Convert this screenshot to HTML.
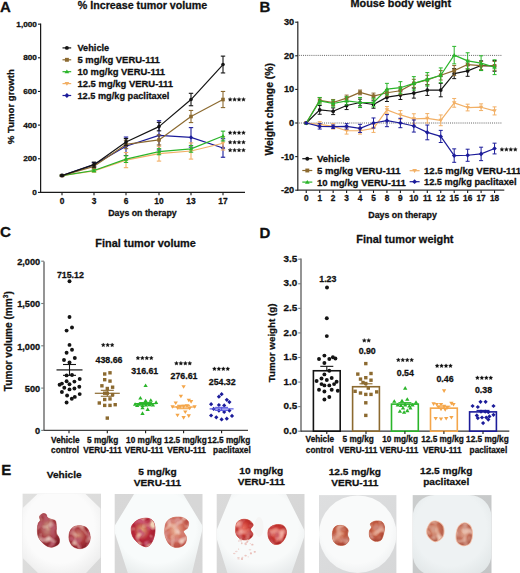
<!DOCTYPE html>
<html><head><meta charset="utf-8"><style>
html,body{margin:0;padding:0;background:#fff;width:520px;height:573px;overflow:hidden}
svg{display:block;font-family:"Liberation Sans", sans-serif}
text{stroke:#111;stroke-width:0.28px;stroke-linejoin:round}
</style></head><body>
<svg width="520" height="573" viewBox="0 0 520 573" font-family='"Liberation Sans", sans-serif'>
<defs><filter id="soft" x="-10%" y="-10%" width="120%" height="120%"><feGaussianBlur stdDeviation="0.7"/></filter><filter id="soft2" x="-20%" y="-20%" width="140%" height="140%"><feGaussianBlur stdDeviation="0.45"/></filter><linearGradient id="bg0" x1="0" y1="0" x2="1" y2="1"><stop offset="0" stop-color="#e0e0df"/><stop offset="1" stop-color="#d8d8d8"/></linearGradient><radialGradient id="pl0" cx="0.48" cy="0.42" r="0.65"><stop offset="0" stop-color="#fbfbfb"/><stop offset="0.7" stop-color="#fbfbfb"/><stop offset="1" stop-color="#eeeeee"/></radialGradient><clipPath id="pc0"><rect x="22.60" y="493.70" width="78.40" height="79.30"/></clipPath><linearGradient id="bg1" x1="0" y1="0" x2="1" y2="1"><stop offset="0" stop-color="#d8d8d8"/><stop offset="1" stop-color="#d6d6d6"/></linearGradient><radialGradient id="pl1" cx="0.48" cy="0.42" r="0.65"><stop offset="0" stop-color="#f8fbfb"/><stop offset="0.7" stop-color="#f8fbfb"/><stop offset="1" stop-color="#e9eded"/></radialGradient><clipPath id="pc1"><rect x="114.70" y="494.00" width="87.80" height="79.00"/></clipPath><linearGradient id="bg2" x1="0" y1="0" x2="1" y2="1"><stop offset="0" stop-color="#dadada"/><stop offset="1" stop-color="#d4d4d4"/></linearGradient><radialGradient id="pl2" cx="0.48" cy="0.42" r="0.65"><stop offset="0" stop-color="#f8fafa"/><stop offset="0.7" stop-color="#f8fafa"/><stop offset="1" stop-color="#e8ebec"/></radialGradient><clipPath id="pc2"><rect x="216.70" y="494.00" width="87.80" height="79.00"/></clipPath><linearGradient id="bg3" x1="0" y1="0" x2="1" y2="1"><stop offset="0" stop-color="#dedfe0"/><stop offset="1" stop-color="#d6d7d8"/></linearGradient><radialGradient id="pl3" cx="0.48" cy="0.42" r="0.65"><stop offset="0" stop-color="#f9fafa"/><stop offset="0.7" stop-color="#f9fafa"/><stop offset="1" stop-color="#eceeef"/></radialGradient><clipPath id="pc3"><rect x="319.00" y="495.10" width="77.40" height="77.90"/></clipPath><linearGradient id="bg4" x1="0" y1="0" x2="1" y2="1"><stop offset="0" stop-color="#cbcdcd"/><stop offset="1" stop-color="#c3c5c6"/></linearGradient><radialGradient id="pl4" cx="0.48" cy="0.42" r="0.65"><stop offset="0" stop-color="#eef2f3"/><stop offset="0.7" stop-color="#eef2f3"/><stop offset="1" stop-color="#e2e7e8"/></radialGradient><clipPath id="pc4"><rect x="412.70" y="495.10" width="78.80" height="77.90"/></clipPath><radialGradient id="tg0" cx="0.45" cy="0.42" r="0.68"><stop offset="0" stop-color="#d0a08c"/><stop offset="0.5" stop-color="#a63c42"/><stop offset="1" stop-color="#7a1a24"/></radialGradient><filter id="md0" x="0" y="480" width="520" height="93" filterUnits="userSpaceOnUse"><feTurbulence type="fractalNoise" baseFrequency="0.16" numOctaves="1" seed="34" result="n"/><feColorMatrix in="n" type="matrix" values="0 0 0 0 0.478 0 0 0 0 0.102 0 0 0 0 0.141 3.6 0 0 0 -1.6" result="s"/><feComposite in="s" in2="SourceGraphic" operator="in"/></filter><filter id="ml0" x="0" y="480" width="520" height="93" filterUnits="userSpaceOnUse"><feTurbulence type="fractalNoise" baseFrequency="0.14" numOctaves="1" seed="35" result="n"/><feColorMatrix in="n" type="matrix" values="0 0 0 0 0.816 0 0 0 0 0.627 0 0 0 0 0.549 3.4 0 0 0 -1.65" result="s"/><feComposite in="s" in2="SourceGraphic" operator="in"/></filter><radialGradient id="tg1" cx="0.45" cy="0.42" r="0.68"><stop offset="0" stop-color="#d08c76"/><stop offset="0.5" stop-color="#aa363c"/><stop offset="1" stop-color="#7e1a24"/></radialGradient><filter id="md1" x="0" y="480" width="520" height="93" filterUnits="userSpaceOnUse"><feTurbulence type="fractalNoise" baseFrequency="0.16" numOctaves="1" seed="40" result="n"/><feColorMatrix in="n" type="matrix" values="0 0 0 0 0.494 0 0 0 0 0.102 0 0 0 0 0.141 3.6 0 0 0 -1.6" result="s"/><feComposite in="s" in2="SourceGraphic" operator="in"/></filter><filter id="ml1" x="0" y="480" width="520" height="93" filterUnits="userSpaceOnUse"><feTurbulence type="fractalNoise" baseFrequency="0.14" numOctaves="1" seed="41" result="n"/><feColorMatrix in="n" type="matrix" values="0 0 0 0 0.816 0 0 0 0 0.549 0 0 0 0 0.463 3.4 0 0 0 -1.65" result="s"/><feComposite in="s" in2="SourceGraphic" operator="in"/></filter><radialGradient id="tg2" cx="0.45" cy="0.42" r="0.68"><stop offset="0" stop-color="#e0a878"/><stop offset="0.5" stop-color="#b8283a"/><stop offset="1" stop-color="#94182a"/></radialGradient><filter id="md2" x="0" y="480" width="520" height="93" filterUnits="userSpaceOnUse"><feTurbulence type="fractalNoise" baseFrequency="0.16" numOctaves="1" seed="64" result="n"/><feColorMatrix in="n" type="matrix" values="0 0 0 0 0.580 0 0 0 0 0.094 0 0 0 0 0.165 3.6 0 0 0 -1.6" result="s"/><feComposite in="s" in2="SourceGraphic" operator="in"/></filter><filter id="ml2" x="0" y="480" width="520" height="93" filterUnits="userSpaceOnUse"><feTurbulence type="fractalNoise" baseFrequency="0.14" numOctaves="1" seed="65" result="n"/><feColorMatrix in="n" type="matrix" values="0 0 0 0 0.878 0 0 0 0 0.659 0 0 0 0 0.471 3.4 0 0 0 -1.65" result="s"/><feComposite in="s" in2="SourceGraphic" operator="in"/></filter><radialGradient id="tg3" cx="0.45" cy="0.42" r="0.68"><stop offset="0" stop-color="#ecb89c"/><stop offset="0.5" stop-color="#cf6a58"/><stop offset="1" stop-color="#b0443e"/></radialGradient><filter id="md3" x="0" y="480" width="520" height="93" filterUnits="userSpaceOnUse"><feTurbulence type="fractalNoise" baseFrequency="0.16" numOctaves="1" seed="67" result="n"/><feColorMatrix in="n" type="matrix" values="0 0 0 0 0.690 0 0 0 0 0.267 0 0 0 0 0.243 3.6 0 0 0 -1.6" result="s"/><feComposite in="s" in2="SourceGraphic" operator="in"/></filter><filter id="ml3" x="0" y="480" width="520" height="93" filterUnits="userSpaceOnUse"><feTurbulence type="fractalNoise" baseFrequency="0.14" numOctaves="1" seed="68" result="n"/><feColorMatrix in="n" type="matrix" values="0 0 0 0 0.925 0 0 0 0 0.722 0 0 0 0 0.612 3.4 0 0 0 -1.65" result="s"/><feComposite in="s" in2="SourceGraphic" operator="in"/></filter><radialGradient id="tg4" cx="0.45" cy="0.42" r="0.68"><stop offset="0" stop-color="#ea7060"/><stop offset="0.5" stop-color="#c6352f"/><stop offset="1" stop-color="#a02022"/></radialGradient><filter id="md4" x="0" y="480" width="520" height="93" filterUnits="userSpaceOnUse"><feTurbulence type="fractalNoise" baseFrequency="0.16" numOctaves="1" seed="94" result="n"/><feColorMatrix in="n" type="matrix" values="0 0 0 0 0.627 0 0 0 0 0.125 0 0 0 0 0.133 3.6 0 0 0 -1.6" result="s"/><feComposite in="s" in2="SourceGraphic" operator="in"/></filter><filter id="ml4" x="0" y="480" width="520" height="93" filterUnits="userSpaceOnUse"><feTurbulence type="fractalNoise" baseFrequency="0.14" numOctaves="1" seed="95" result="n"/><feColorMatrix in="n" type="matrix" values="0 0 0 0 0.918 0 0 0 0 0.439 0 0 0 0 0.376 3.4 0 0 0 -1.65" result="s"/><feComposite in="s" in2="SourceGraphic" operator="in"/></filter><radialGradient id="tg5" cx="0.45" cy="0.42" r="0.68"><stop offset="0" stop-color="#ea7462"/><stop offset="0.5" stop-color="#c4322e"/><stop offset="1" stop-color="#9e1e22"/></radialGradient><filter id="md5" x="0" y="480" width="520" height="93" filterUnits="userSpaceOnUse"><feTurbulence type="fractalNoise" baseFrequency="0.16" numOctaves="1" seed="97" result="n"/><feColorMatrix in="n" type="matrix" values="0 0 0 0 0.620 0 0 0 0 0.118 0 0 0 0 0.133 3.6 0 0 0 -1.6" result="s"/><feComposite in="s" in2="SourceGraphic" operator="in"/></filter><filter id="ml5" x="0" y="480" width="520" height="93" filterUnits="userSpaceOnUse"><feTurbulence type="fractalNoise" baseFrequency="0.14" numOctaves="1" seed="98" result="n"/><feColorMatrix in="n" type="matrix" values="0 0 0 0 0.918 0 0 0 0 0.455 0 0 0 0 0.384 3.4 0 0 0 -1.65" result="s"/><feComposite in="s" in2="SourceGraphic" operator="in"/></filter><radialGradient id="tg6" cx="0.45" cy="0.42" r="0.68"><stop offset="0" stop-color="#e09474"/><stop offset="0.5" stop-color="#c05a42"/><stop offset="1" stop-color="#a03e30"/></radialGradient><filter id="md6" x="0" y="480" width="520" height="93" filterUnits="userSpaceOnUse"><feTurbulence type="fractalNoise" baseFrequency="0.16" numOctaves="1" seed="124" result="n"/><feColorMatrix in="n" type="matrix" values="0 0 0 0 0.627 0 0 0 0 0.243 0 0 0 0 0.188 3.6 0 0 0 -1.6" result="s"/><feComposite in="s" in2="SourceGraphic" operator="in"/></filter><filter id="ml6" x="0" y="480" width="520" height="93" filterUnits="userSpaceOnUse"><feTurbulence type="fractalNoise" baseFrequency="0.14" numOctaves="1" seed="125" result="n"/><feColorMatrix in="n" type="matrix" values="0 0 0 0 0.878 0 0 0 0 0.580 0 0 0 0 0.455 3.4 0 0 0 -1.65" result="s"/><feComposite in="s" in2="SourceGraphic" operator="in"/></filter><radialGradient id="tg7" cx="0.45" cy="0.42" r="0.68"><stop offset="0" stop-color="#e09072"/><stop offset="0.5" stop-color="#c05840"/><stop offset="1" stop-color="#9e3c2e"/></radialGradient><filter id="md7" x="0" y="480" width="520" height="93" filterUnits="userSpaceOnUse"><feTurbulence type="fractalNoise" baseFrequency="0.16" numOctaves="1" seed="127" result="n"/><feColorMatrix in="n" type="matrix" values="0 0 0 0 0.620 0 0 0 0 0.235 0 0 0 0 0.180 3.6 0 0 0 -1.6" result="s"/><feComposite in="s" in2="SourceGraphic" operator="in"/></filter><filter id="ml7" x="0" y="480" width="520" height="93" filterUnits="userSpaceOnUse"><feTurbulence type="fractalNoise" baseFrequency="0.14" numOctaves="1" seed="128" result="n"/><feColorMatrix in="n" type="matrix" values="0 0 0 0 0.878 0 0 0 0 0.565 0 0 0 0 0.447 3.4 0 0 0 -1.65" result="s"/><feComposite in="s" in2="SourceGraphic" operator="in"/></filter><radialGradient id="tg8" cx="0.45" cy="0.42" r="0.68"><stop offset="0" stop-color="#e2a688"/><stop offset="0.5" stop-color="#c46a52"/><stop offset="1" stop-color="#a85440"/></radialGradient><filter id="md8" x="0" y="480" width="520" height="93" filterUnits="userSpaceOnUse"><feTurbulence type="fractalNoise" baseFrequency="0.16" numOctaves="1" seed="154" result="n"/><feColorMatrix in="n" type="matrix" values="0 0 0 0 0.659 0 0 0 0 0.329 0 0 0 0 0.251 3.6 0 0 0 -1.6" result="s"/><feComposite in="s" in2="SourceGraphic" operator="in"/></filter><filter id="ml8" x="0" y="480" width="520" height="93" filterUnits="userSpaceOnUse"><feTurbulence type="fractalNoise" baseFrequency="0.14" numOctaves="1" seed="155" result="n"/><feColorMatrix in="n" type="matrix" values="0 0 0 0 0.886 0 0 0 0 0.651 0 0 0 0 0.533 3.4 0 0 0 -1.65" result="s"/><feComposite in="s" in2="SourceGraphic" operator="in"/></filter><radialGradient id="tg9" cx="0.45" cy="0.42" r="0.68"><stop offset="0" stop-color="#e4aa90"/><stop offset="0.5" stop-color="#c4705a"/><stop offset="1" stop-color="#a85644"/></radialGradient><filter id="md9" x="0" y="480" width="520" height="93" filterUnits="userSpaceOnUse"><feTurbulence type="fractalNoise" baseFrequency="0.16" numOctaves="1" seed="157" result="n"/><feColorMatrix in="n" type="matrix" values="0 0 0 0 0.659 0 0 0 0 0.337 0 0 0 0 0.267 3.6 0 0 0 -1.6" result="s"/><feComposite in="s" in2="SourceGraphic" operator="in"/></filter><filter id="ml9" x="0" y="480" width="520" height="93" filterUnits="userSpaceOnUse"><feTurbulence type="fractalNoise" baseFrequency="0.14" numOctaves="1" seed="158" result="n"/><feColorMatrix in="n" type="matrix" values="0 0 0 0 0.894 0 0 0 0 0.667 0 0 0 0 0.565 3.4 0 0 0 -1.65" result="s"/><feComposite in="s" in2="SourceGraphic" operator="in"/></filter></defs>
<rect width="520" height="573" fill="#fff"/>
<text x="0" y="12.30" font-size="15" font-weight="bold" fill="#111">A</text>
<text x="259.4" y="11.80" font-size="15" font-weight="bold" fill="#111">B</text>
<text x="0" y="237.30" font-size="15.2" font-weight="bold" fill="#111">C</text>
<text x="259.4" y="237.90" font-size="15" font-weight="bold" fill="#111">D</text>
<text x="1.2" y="475.00" font-size="15" font-weight="bold" fill="#111">E</text>
<text x="142.50" y="9.20" font-size="10.7" text-anchor="middle" font-weight="bold" fill="#111" >% Increase tumor volume</text>
<line x1="40.60" y1="23.55" x2="40.60" y2="193.00" stroke="#1a1a1a" stroke-width="1.25" />
<line x1="40.00" y1="192.40" x2="245.00" y2="192.40" stroke="#1a1a1a" stroke-width="1.25" />
<line x1="38.00" y1="192.40" x2="40.60" y2="192.40" stroke="#1a1a1a" stroke-width="1.1" />
<text transform="translate(36.90,194.92) scale(1.03,1)" font-size="8.0" text-anchor="end" font-weight="bold" fill="#111">0</text>
<line x1="38.00" y1="158.75" x2="40.60" y2="158.75" stroke="#1a1a1a" stroke-width="1.1" />
<text transform="translate(36.90,161.27) scale(1.03,1)" font-size="8.0" text-anchor="end" font-weight="bold" fill="#111">200</text>
<line x1="38.00" y1="125.10" x2="40.60" y2="125.10" stroke="#1a1a1a" stroke-width="1.1" />
<text transform="translate(36.90,127.62) scale(1.03,1)" font-size="8.0" text-anchor="end" font-weight="bold" fill="#111">400</text>
<line x1="38.00" y1="91.45" x2="40.60" y2="91.45" stroke="#1a1a1a" stroke-width="1.1" />
<text transform="translate(36.90,93.97) scale(1.03,1)" font-size="8.0" text-anchor="end" font-weight="bold" fill="#111">600</text>
<line x1="38.00" y1="57.80" x2="40.60" y2="57.80" stroke="#1a1a1a" stroke-width="1.1" />
<text transform="translate(36.90,60.32) scale(1.03,1)" font-size="8.0" text-anchor="end" font-weight="bold" fill="#111">800</text>
<line x1="38.00" y1="24.15" x2="40.60" y2="24.15" stroke="#1a1a1a" stroke-width="1.1" />
<text transform="translate(36.90,26.67) scale(1.03,1)" font-size="8.0" text-anchor="end" font-weight="bold" fill="#111">1,000</text>
<line x1="62.00" y1="192.40" x2="62.00" y2="195.20" stroke="#1a1a1a" stroke-width="1.1" />
<text x="62.00" y="203.66" font-size="8.4" text-anchor="middle" font-weight="bold" fill="#111" >0</text>
<line x1="94.00" y1="192.40" x2="94.00" y2="195.20" stroke="#1a1a1a" stroke-width="1.1" />
<text x="94.00" y="203.66" font-size="8.4" text-anchor="middle" font-weight="bold" fill="#111" >3</text>
<line x1="126.00" y1="192.40" x2="126.00" y2="195.20" stroke="#1a1a1a" stroke-width="1.1" />
<text x="126.00" y="203.66" font-size="8.4" text-anchor="middle" font-weight="bold" fill="#111" >6</text>
<line x1="159.00" y1="192.40" x2="159.00" y2="195.20" stroke="#1a1a1a" stroke-width="1.1" />
<text x="159.00" y="203.66" font-size="8.4" text-anchor="middle" font-weight="bold" fill="#111" >10</text>
<line x1="191.00" y1="192.40" x2="191.00" y2="195.20" stroke="#1a1a1a" stroke-width="1.1" />
<text x="191.00" y="203.66" font-size="8.4" text-anchor="middle" font-weight="bold" fill="#111" >13</text>
<line x1="223.00" y1="192.40" x2="223.00" y2="195.20" stroke="#1a1a1a" stroke-width="1.1" />
<text x="223.00" y="203.66" font-size="8.4" text-anchor="middle" font-weight="bold" fill="#111" >17</text>
<text x="142.50" y="215.91" font-size="8.8" text-anchor="middle" font-weight="bold" fill="#111" >Days on therapy</text>
<text transform="translate(13.6,106.7) rotate(-90)" x="0" y="0" font-size="9.6" text-anchor="middle" font-weight="bold" fill="#111">% Tumor growth</text>
<line x1="62.00" y1="175.07" x2="62.00" y2="176.08" stroke="#1c1c9a" stroke-width="1.1" />
<line x1="59.80" y1="175.07" x2="64.20" y2="175.07" stroke="#1c1c9a" stroke-width="1.1" />
<line x1="59.80" y1="176.08" x2="64.20" y2="176.08" stroke="#1c1c9a" stroke-width="1.1" />
<line x1="94.00" y1="162.62" x2="94.00" y2="166.66" stroke="#1c1c9a" stroke-width="1.1" />
<line x1="91.80" y1="162.62" x2="96.20" y2="162.62" stroke="#1c1c9a" stroke-width="1.1" />
<line x1="91.80" y1="166.66" x2="96.20" y2="166.66" stroke="#1c1c9a" stroke-width="1.1" />
<line x1="126.00" y1="137.05" x2="126.00" y2="155.55" stroke="#1c1c9a" stroke-width="1.1" />
<line x1="123.80" y1="137.05" x2="128.20" y2="137.05" stroke="#1c1c9a" stroke-width="1.1" />
<line x1="123.80" y1="155.55" x2="128.20" y2="155.55" stroke="#1c1c9a" stroke-width="1.1" />
<line x1="159.00" y1="120.73" x2="159.00" y2="150.00" stroke="#1c1c9a" stroke-width="1.1" />
<line x1="156.80" y1="120.73" x2="161.20" y2="120.73" stroke="#1c1c9a" stroke-width="1.1" />
<line x1="156.80" y1="150.00" x2="161.20" y2="150.00" stroke="#1c1c9a" stroke-width="1.1" />
<line x1="191.00" y1="127.62" x2="191.00" y2="147.14" stroke="#1c1c9a" stroke-width="1.1" />
<line x1="188.80" y1="127.62" x2="193.20" y2="127.62" stroke="#1c1c9a" stroke-width="1.1" />
<line x1="188.80" y1="147.14" x2="193.20" y2="147.14" stroke="#1c1c9a" stroke-width="1.1" />
<line x1="223.00" y1="138.73" x2="223.00" y2="157.24" stroke="#1c1c9a" stroke-width="1.1" />
<line x1="220.80" y1="138.73" x2="225.20" y2="138.73" stroke="#1c1c9a" stroke-width="1.1" />
<line x1="220.80" y1="157.24" x2="225.20" y2="157.24" stroke="#1c1c9a" stroke-width="1.1" />
<polyline points="62.00,175.57 94.00,164.64 126.00,146.30 159.00,135.36 191.00,137.38 223.00,147.98" fill="none" stroke="#1c1c9a" stroke-width="1.2" stroke-linejoin="round" />
<polygon points="62.00,173.34 64.23,175.57 62.00,177.81 59.77,175.57" fill="#1c1c9a"/>
<polygon points="94.00,162.41 96.23,164.64 94.00,166.87 91.77,164.64" fill="#1c1c9a"/>
<polygon points="126.00,144.07 128.23,146.30 126.00,148.53 123.77,146.30" fill="#1c1c9a"/>
<polygon points="159.00,133.13 161.23,135.36 159.00,137.60 156.77,135.36" fill="#1c1c9a"/>
<polygon points="191.00,135.15 193.23,137.38 191.00,139.61 188.77,137.38" fill="#1c1c9a"/>
<polygon points="223.00,145.75 225.23,147.98 223.00,150.21 220.77,147.98" fill="#1c1c9a"/>
<line x1="62.00" y1="175.07" x2="62.00" y2="176.08" stroke="#f2b066" stroke-width="1.1" />
<line x1="59.80" y1="175.07" x2="64.20" y2="175.07" stroke="#f2b066" stroke-width="1.1" />
<line x1="59.80" y1="176.08" x2="64.20" y2="176.08" stroke="#f2b066" stroke-width="1.1" />
<line x1="94.00" y1="169.52" x2="94.00" y2="172.21" stroke="#f2b066" stroke-width="1.1" />
<line x1="91.80" y1="169.52" x2="96.20" y2="169.52" stroke="#f2b066" stroke-width="1.1" />
<line x1="91.80" y1="172.21" x2="96.20" y2="172.21" stroke="#f2b066" stroke-width="1.1" />
<line x1="126.00" y1="152.52" x2="126.00" y2="167.67" stroke="#f2b066" stroke-width="1.1" />
<line x1="123.80" y1="152.52" x2="128.20" y2="152.52" stroke="#f2b066" stroke-width="1.1" />
<line x1="123.80" y1="167.67" x2="128.20" y2="167.67" stroke="#f2b066" stroke-width="1.1" />
<line x1="159.00" y1="146.30" x2="159.00" y2="161.11" stroke="#f2b066" stroke-width="1.1" />
<line x1="156.80" y1="146.30" x2="161.20" y2="146.30" stroke="#f2b066" stroke-width="1.1" />
<line x1="156.80" y1="161.11" x2="161.20" y2="161.11" stroke="#f2b066" stroke-width="1.1" />
<line x1="191.00" y1="142.93" x2="191.00" y2="159.09" stroke="#f2b066" stroke-width="1.1" />
<line x1="188.80" y1="142.93" x2="193.20" y2="142.93" stroke="#f2b066" stroke-width="1.1" />
<line x1="188.80" y1="159.09" x2="193.20" y2="159.09" stroke="#f2b066" stroke-width="1.1" />
<line x1="223.00" y1="136.54" x2="223.00" y2="150.00" stroke="#f2b066" stroke-width="1.1" />
<line x1="220.80" y1="136.54" x2="225.20" y2="136.54" stroke="#f2b066" stroke-width="1.1" />
<line x1="220.80" y1="150.00" x2="225.20" y2="150.00" stroke="#f2b066" stroke-width="1.1" />
<polyline points="62.00,175.57 94.00,170.86 126.00,160.10 159.00,153.70 191.00,151.01 223.00,143.27" fill="none" stroke="#f2b066" stroke-width="1.2" stroke-linejoin="round" />
<polygon points="62.00,177.63 59.84,174.04 64.16,174.04" fill="#f2b066"/>
<polygon points="94.00,172.92 91.84,169.33 96.16,169.33" fill="#f2b066"/>
<polygon points="126.00,162.15 123.84,158.56 128.16,158.56" fill="#f2b066"/>
<polygon points="159.00,155.75 156.84,152.16 161.16,152.16" fill="#f2b066"/>
<polygon points="191.00,153.06 188.84,149.47 193.16,149.47" fill="#f2b066"/>
<polygon points="223.00,145.32 220.84,141.73 225.16,141.73" fill="#f2b066"/>
<line x1="62.00" y1="175.07" x2="62.00" y2="176.08" stroke="#2ab52a" stroke-width="1.1" />
<line x1="59.80" y1="175.07" x2="64.20" y2="175.07" stroke="#2ab52a" stroke-width="1.1" />
<line x1="59.80" y1="176.08" x2="64.20" y2="176.08" stroke="#2ab52a" stroke-width="1.1" />
<line x1="94.00" y1="169.18" x2="94.00" y2="171.87" stroke="#2ab52a" stroke-width="1.1" />
<line x1="91.80" y1="169.18" x2="96.20" y2="169.18" stroke="#2ab52a" stroke-width="1.1" />
<line x1="91.80" y1="171.87" x2="96.20" y2="171.87" stroke="#2ab52a" stroke-width="1.1" />
<line x1="126.00" y1="155.72" x2="126.00" y2="162.45" stroke="#2ab52a" stroke-width="1.1" />
<line x1="123.80" y1="155.72" x2="128.20" y2="155.72" stroke="#2ab52a" stroke-width="1.1" />
<line x1="123.80" y1="162.45" x2="128.20" y2="162.45" stroke="#2ab52a" stroke-width="1.1" />
<line x1="159.00" y1="148.66" x2="159.00" y2="154.71" stroke="#2ab52a" stroke-width="1.1" />
<line x1="156.80" y1="148.66" x2="161.20" y2="148.66" stroke="#2ab52a" stroke-width="1.1" />
<line x1="156.80" y1="154.71" x2="161.20" y2="154.71" stroke="#2ab52a" stroke-width="1.1" />
<line x1="191.00" y1="145.46" x2="191.00" y2="152.19" stroke="#2ab52a" stroke-width="1.1" />
<line x1="188.80" y1="145.46" x2="193.20" y2="145.46" stroke="#2ab52a" stroke-width="1.1" />
<line x1="188.80" y1="152.19" x2="193.20" y2="152.19" stroke="#2ab52a" stroke-width="1.1" />
<line x1="223.00" y1="131.16" x2="223.00" y2="140.92" stroke="#2ab52a" stroke-width="1.1" />
<line x1="220.80" y1="131.16" x2="225.20" y2="131.16" stroke="#2ab52a" stroke-width="1.1" />
<line x1="220.80" y1="140.92" x2="225.20" y2="140.92" stroke="#2ab52a" stroke-width="1.1" />
<polyline points="62.00,175.57 94.00,170.53 126.00,159.09 159.00,151.68 191.00,148.82 223.00,136.04" fill="none" stroke="#2ab52a" stroke-width="1.2" stroke-linejoin="round" />
<polygon points="62.00,173.52 59.84,177.11 64.16,177.11" fill="#2ab52a"/>
<polygon points="94.00,168.48 91.84,172.07 96.16,172.07" fill="#2ab52a"/>
<polygon points="126.00,157.03 123.84,160.63 128.16,160.63" fill="#2ab52a"/>
<polygon points="159.00,149.63 156.84,153.22 161.16,153.22" fill="#2ab52a"/>
<polygon points="191.00,146.77 188.84,150.36 193.16,150.36" fill="#2ab52a"/>
<polygon points="223.00,133.98 220.84,137.58 225.16,137.58" fill="#2ab52a"/>
<line x1="62.00" y1="175.07" x2="62.00" y2="176.08" stroke="#8c6a30" stroke-width="1.1" />
<line x1="59.80" y1="175.07" x2="64.20" y2="175.07" stroke="#8c6a30" stroke-width="1.1" />
<line x1="59.80" y1="176.08" x2="64.20" y2="176.08" stroke="#8c6a30" stroke-width="1.1" />
<line x1="94.00" y1="164.30" x2="94.00" y2="168.34" stroke="#8c6a30" stroke-width="1.1" />
<line x1="91.80" y1="164.30" x2="96.20" y2="164.30" stroke="#8c6a30" stroke-width="1.1" />
<line x1="91.80" y1="168.34" x2="96.20" y2="168.34" stroke="#8c6a30" stroke-width="1.1" />
<line x1="126.00" y1="140.24" x2="126.00" y2="148.66" stroke="#8c6a30" stroke-width="1.1" />
<line x1="123.80" y1="140.24" x2="128.20" y2="140.24" stroke="#8c6a30" stroke-width="1.1" />
<line x1="123.80" y1="148.66" x2="128.20" y2="148.66" stroke="#8c6a30" stroke-width="1.1" />
<line x1="159.00" y1="134.86" x2="159.00" y2="144.95" stroke="#8c6a30" stroke-width="1.1" />
<line x1="156.80" y1="134.86" x2="161.20" y2="134.86" stroke="#8c6a30" stroke-width="1.1" />
<line x1="156.80" y1="144.95" x2="161.20" y2="144.95" stroke="#8c6a30" stroke-width="1.1" />
<line x1="191.00" y1="110.46" x2="191.00" y2="122.58" stroke="#8c6a30" stroke-width="1.1" />
<line x1="188.80" y1="110.46" x2="193.20" y2="110.46" stroke="#8c6a30" stroke-width="1.1" />
<line x1="188.80" y1="122.58" x2="193.20" y2="122.58" stroke="#8c6a30" stroke-width="1.1" />
<line x1="223.00" y1="91.45" x2="223.00" y2="107.60" stroke="#8c6a30" stroke-width="1.1" />
<line x1="220.80" y1="91.45" x2="225.20" y2="91.45" stroke="#8c6a30" stroke-width="1.1" />
<line x1="220.80" y1="107.60" x2="225.20" y2="107.60" stroke="#8c6a30" stroke-width="1.1" />
<polyline points="62.00,175.57 94.00,166.32 126.00,144.45 159.00,139.91 191.00,116.52 223.00,99.53" fill="none" stroke="#8c6a30" stroke-width="1.2" stroke-linejoin="round" />
<rect x="60.20" y="173.77" width="3.60" height="3.60" fill="#8c6a30"/>
<rect x="92.20" y="164.52" width="3.60" height="3.60" fill="#8c6a30"/>
<rect x="124.20" y="142.65" width="3.60" height="3.60" fill="#8c6a30"/>
<rect x="157.20" y="138.11" width="3.60" height="3.60" fill="#8c6a30"/>
<rect x="189.20" y="114.72" width="3.60" height="3.60" fill="#8c6a30"/>
<rect x="221.20" y="97.73" width="3.60" height="3.60" fill="#8c6a30"/>
<line x1="62.00" y1="175.07" x2="62.00" y2="176.08" stroke="#141414" stroke-width="1.1" />
<line x1="59.80" y1="175.07" x2="64.20" y2="175.07" stroke="#141414" stroke-width="1.1" />
<line x1="59.80" y1="176.08" x2="64.20" y2="176.08" stroke="#141414" stroke-width="1.1" />
<line x1="94.00" y1="162.12" x2="94.00" y2="167.16" stroke="#141414" stroke-width="1.1" />
<line x1="91.80" y1="162.12" x2="96.20" y2="162.12" stroke="#141414" stroke-width="1.1" />
<line x1="91.80" y1="167.16" x2="96.20" y2="167.16" stroke="#141414" stroke-width="1.1" />
<line x1="126.00" y1="138.56" x2="126.00" y2="145.29" stroke="#141414" stroke-width="1.1" />
<line x1="123.80" y1="138.56" x2="128.20" y2="138.56" stroke="#141414" stroke-width="1.1" />
<line x1="123.80" y1="145.29" x2="128.20" y2="145.29" stroke="#141414" stroke-width="1.1" />
<line x1="159.00" y1="122.41" x2="159.00" y2="130.82" stroke="#141414" stroke-width="1.1" />
<line x1="156.80" y1="122.41" x2="161.20" y2="122.41" stroke="#141414" stroke-width="1.1" />
<line x1="156.80" y1="130.82" x2="161.20" y2="130.82" stroke="#141414" stroke-width="1.1" />
<line x1="191.00" y1="93.30" x2="191.00" y2="105.75" stroke="#141414" stroke-width="1.1" />
<line x1="188.80" y1="93.30" x2="193.20" y2="93.30" stroke="#141414" stroke-width="1.1" />
<line x1="188.80" y1="105.75" x2="193.20" y2="105.75" stroke="#141414" stroke-width="1.1" />
<line x1="223.00" y1="56.12" x2="223.00" y2="72.94" stroke="#141414" stroke-width="1.1" />
<line x1="220.80" y1="56.12" x2="225.20" y2="56.12" stroke="#141414" stroke-width="1.1" />
<line x1="220.80" y1="72.94" x2="225.20" y2="72.94" stroke="#141414" stroke-width="1.1" />
<polyline points="62.00,175.57 94.00,164.64 126.00,141.93 159.00,126.61 191.00,99.53 223.00,64.53" fill="none" stroke="#141414" stroke-width="1.2" stroke-linejoin="round" />
<circle cx="62.00" cy="175.57" r="1.80" fill="#141414"/>
<circle cx="94.00" cy="164.64" r="1.80" fill="#141414"/>
<circle cx="126.00" cy="141.93" r="1.80" fill="#141414"/>
<circle cx="159.00" cy="126.61" r="1.80" fill="#141414"/>
<circle cx="191.00" cy="99.53" r="1.80" fill="#141414"/>
<circle cx="223.00" cy="64.53" r="1.80" fill="#141414"/>
<polygon points="230.12,97.45 230.71,98.69 232.07,98.87 231.08,99.81 231.33,101.16 230.12,100.50 228.92,101.16 229.17,99.81 228.18,98.87 229.54,98.69" fill="#111" stroke="#111" stroke-width="0.35" stroke-linejoin="round"/>
<polygon points="234.58,97.45 235.16,98.69 236.52,98.87 235.53,99.81 235.78,101.16 234.58,100.50 233.37,101.16 233.62,99.81 232.63,98.87 233.99,98.69" fill="#111" stroke="#111" stroke-width="0.35" stroke-linejoin="round"/>
<polygon points="239.03,97.45 239.61,98.69 240.97,98.87 239.98,99.81 240.23,101.16 239.03,100.50 237.82,101.16 238.07,99.81 237.08,98.87 238.44,98.69" fill="#111" stroke="#111" stroke-width="0.35" stroke-linejoin="round"/>
<polygon points="243.48,97.45 244.06,98.69 245.42,98.87 244.43,99.81 244.68,101.16 243.48,100.50 242.27,101.16 242.52,99.81 241.53,98.87 242.89,98.69" fill="#111" stroke="#111" stroke-width="0.35" stroke-linejoin="round"/>
<polygon points="230.12,130.75 230.71,131.99 232.07,132.17 231.08,133.11 231.33,134.46 230.12,133.80 228.92,134.46 229.17,133.11 228.18,132.17 229.54,131.99" fill="#111" stroke="#111" stroke-width="0.35" stroke-linejoin="round"/>
<polygon points="234.58,130.75 235.16,131.99 236.52,132.17 235.53,133.11 235.78,134.46 234.58,133.80 233.37,134.46 233.62,133.11 232.63,132.17 233.99,131.99" fill="#111" stroke="#111" stroke-width="0.35" stroke-linejoin="round"/>
<polygon points="239.03,130.75 239.61,131.99 240.97,132.17 239.98,133.11 240.23,134.46 239.03,133.80 237.82,134.46 238.07,133.11 237.08,132.17 238.44,131.99" fill="#111" stroke="#111" stroke-width="0.35" stroke-linejoin="round"/>
<polygon points="243.48,130.75 244.06,131.99 245.42,132.17 244.43,133.11 244.68,134.46 243.48,133.80 242.27,134.46 242.52,133.11 241.53,132.17 242.89,131.99" fill="#111" stroke="#111" stroke-width="0.35" stroke-linejoin="round"/>
<polygon points="230.12,140.25 230.71,141.49 232.07,141.67 231.08,142.61 231.33,143.96 230.12,143.30 228.92,143.96 229.17,142.61 228.18,141.67 229.54,141.49" fill="#111" stroke="#111" stroke-width="0.35" stroke-linejoin="round"/>
<polygon points="234.58,140.25 235.16,141.49 236.52,141.67 235.53,142.61 235.78,143.96 234.58,143.30 233.37,143.96 233.62,142.61 232.63,141.67 233.99,141.49" fill="#111" stroke="#111" stroke-width="0.35" stroke-linejoin="round"/>
<polygon points="239.03,140.25 239.61,141.49 240.97,141.67 239.98,142.61 240.23,143.96 239.03,143.30 237.82,143.96 238.07,142.61 237.08,141.67 238.44,141.49" fill="#111" stroke="#111" stroke-width="0.35" stroke-linejoin="round"/>
<polygon points="243.48,140.25 244.06,141.49 245.42,141.67 244.43,142.61 244.68,143.96 243.48,143.30 242.27,143.96 242.52,142.61 241.53,141.67 242.89,141.49" fill="#111" stroke="#111" stroke-width="0.35" stroke-linejoin="round"/>
<polygon points="230.12,148.15 230.71,149.39 232.07,149.57 231.08,150.51 231.33,151.86 230.12,151.20 228.92,151.86 229.17,150.51 228.18,149.57 229.54,149.39" fill="#111" stroke="#111" stroke-width="0.35" stroke-linejoin="round"/>
<polygon points="234.58,148.15 235.16,149.39 236.52,149.57 235.53,150.51 235.78,151.86 234.58,151.20 233.37,151.86 233.62,150.51 232.63,149.57 233.99,149.39" fill="#111" stroke="#111" stroke-width="0.35" stroke-linejoin="round"/>
<polygon points="239.03,148.15 239.61,149.39 240.97,149.57 239.98,150.51 240.23,151.86 239.03,151.20 237.82,151.86 238.07,150.51 237.08,149.57 238.44,149.39" fill="#111" stroke="#111" stroke-width="0.35" stroke-linejoin="round"/>
<polygon points="243.48,148.15 244.06,149.39 245.42,149.57 244.43,150.51 244.68,151.86 243.48,151.20 242.27,151.86 242.52,150.51 241.53,149.57 242.89,149.39" fill="#111" stroke="#111" stroke-width="0.35" stroke-linejoin="round"/>
<line x1="62.50" y1="47.90" x2="71.20" y2="47.90" stroke="#141414" stroke-width="1.2" />
<circle cx="66.90" cy="47.90" r="1.95" fill="#141414"/>
<text transform="translate(77.50,51.25) scale(1.0,1)" font-size="9.2" text-anchor="start" font-weight="bold" fill="#111">Vehicle</text>
<line x1="62.50" y1="59.80" x2="71.20" y2="59.80" stroke="#8c6a30" stroke-width="1.2" />
<rect x="64.95" y="57.85" width="3.90" height="3.90" fill="#8c6a30"/>
<text transform="translate(77.50,63.15) scale(1.028,1)" font-size="9.2" text-anchor="start" font-weight="bold" fill="#111">5 mg/kg VERU-111</text>
<line x1="62.50" y1="71.70" x2="71.20" y2="71.70" stroke="#2ab52a" stroke-width="1.2" />
<polygon points="66.90,69.48 64.56,73.37 69.24,73.37" fill="#2ab52a"/>
<text transform="translate(77.50,75.05) scale(1.028,1)" font-size="9.2" text-anchor="start" font-weight="bold" fill="#111">10 mg/kg VERU-111</text>
<line x1="62.50" y1="83.60" x2="71.20" y2="83.60" stroke="#f2b066" stroke-width="1.2" />
<polygon points="66.90,85.82 64.56,81.93 69.24,81.93" fill="#f2b066"/>
<text transform="translate(77.50,86.95) scale(1.028,1)" font-size="9.2" text-anchor="start" font-weight="bold" fill="#111">12.5 mg/kg VERU-111</text>
<line x1="62.50" y1="95.50" x2="71.20" y2="95.50" stroke="#1c1c9a" stroke-width="1.2" />
<polygon points="66.90,93.08 69.32,95.50 66.90,97.92 64.48,95.50" fill="#1c1c9a"/>
<text transform="translate(77.50,98.85) scale(1.0,1)" font-size="9.2" text-anchor="start" font-weight="bold" fill="#111">12.5 mg/kg paclitaxel</text>
<text x="400.80" y="7.45" font-size="10.85" text-anchor="middle" font-weight="bold" fill="#111" >Mouse body weight</text>
<line x1="297.80" y1="21.60" x2="297.80" y2="190.80" stroke="#333" stroke-width="1.3" />
<line x1="297.20" y1="190.20" x2="504.30" y2="190.20" stroke="#333" stroke-width="1.3" />
<line x1="295.20" y1="22.20" x2="297.80" y2="22.20" stroke="#1a1a1a" stroke-width="1.1" />
<text transform="translate(294.20,25.13) scale(1.07,1)" font-size="8.6" text-anchor="end" font-weight="bold" fill="#111">30</text>
<line x1="295.20" y1="55.80" x2="297.80" y2="55.80" stroke="#1a1a1a" stroke-width="1.1" />
<text transform="translate(294.20,58.73) scale(1.07,1)" font-size="8.6" text-anchor="end" font-weight="bold" fill="#111">20</text>
<line x1="295.20" y1="89.40" x2="297.80" y2="89.40" stroke="#1a1a1a" stroke-width="1.1" />
<text transform="translate(294.20,92.33) scale(1.07,1)" font-size="8.6" text-anchor="end" font-weight="bold" fill="#111">10</text>
<line x1="295.20" y1="123.00" x2="297.80" y2="123.00" stroke="#1a1a1a" stroke-width="1.1" />
<text transform="translate(294.20,125.93) scale(1.07,1)" font-size="8.6" text-anchor="end" font-weight="bold" fill="#111">0</text>
<line x1="295.20" y1="156.60" x2="297.80" y2="156.60" stroke="#1a1a1a" stroke-width="1.1" />
<text transform="translate(294.20,159.53) scale(1.07,1)" font-size="8.6" text-anchor="end" font-weight="bold" fill="#111">-10</text>
<line x1="295.20" y1="190.20" x2="297.80" y2="190.20" stroke="#1a1a1a" stroke-width="1.1" />
<text transform="translate(294.20,193.13) scale(1.07,1)" font-size="8.6" text-anchor="end" font-weight="bold" fill="#111">-20</text>
<line x1="306.25" y1="190.20" x2="306.25" y2="193.00" stroke="#1a1a1a" stroke-width="1.1" />
<text x="306.25" y="201.43" font-size="8.3" text-anchor="middle" font-weight="bold" fill="#111" >0</text>
<line x1="319.70" y1="190.20" x2="319.70" y2="193.00" stroke="#1a1a1a" stroke-width="1.1" />
<text x="319.70" y="201.43" font-size="8.3" text-anchor="middle" font-weight="bold" fill="#111" >1</text>
<line x1="333.15" y1="190.20" x2="333.15" y2="193.00" stroke="#1a1a1a" stroke-width="1.1" />
<text x="333.15" y="201.43" font-size="8.3" text-anchor="middle" font-weight="bold" fill="#111" >2</text>
<line x1="346.60" y1="190.20" x2="346.60" y2="193.00" stroke="#1a1a1a" stroke-width="1.1" />
<text x="346.60" y="201.43" font-size="8.3" text-anchor="middle" font-weight="bold" fill="#111" >3</text>
<line x1="360.05" y1="190.20" x2="360.05" y2="193.00" stroke="#1a1a1a" stroke-width="1.1" />
<text x="360.05" y="201.43" font-size="8.3" text-anchor="middle" font-weight="bold" fill="#111" >4</text>
<line x1="373.50" y1="190.20" x2="373.50" y2="193.00" stroke="#1a1a1a" stroke-width="1.1" />
<text x="373.50" y="201.43" font-size="8.3" text-anchor="middle" font-weight="bold" fill="#111" >5</text>
<line x1="386.95" y1="190.20" x2="386.95" y2="193.00" stroke="#1a1a1a" stroke-width="1.1" />
<text x="386.95" y="201.43" font-size="8.3" text-anchor="middle" font-weight="bold" fill="#111" >8</text>
<line x1="400.40" y1="190.20" x2="400.40" y2="193.00" stroke="#1a1a1a" stroke-width="1.1" />
<text x="400.40" y="201.43" font-size="8.3" text-anchor="middle" font-weight="bold" fill="#111" >9</text>
<line x1="413.85" y1="190.20" x2="413.85" y2="193.00" stroke="#1a1a1a" stroke-width="1.1" />
<text x="413.85" y="201.43" font-size="8.3" text-anchor="middle" font-weight="bold" fill="#111" >10</text>
<line x1="427.30" y1="190.20" x2="427.30" y2="193.00" stroke="#1a1a1a" stroke-width="1.1" />
<text x="427.30" y="201.43" font-size="8.3" text-anchor="middle" font-weight="bold" fill="#111" >11</text>
<line x1="440.75" y1="190.20" x2="440.75" y2="193.00" stroke="#1a1a1a" stroke-width="1.1" />
<text x="440.75" y="201.43" font-size="8.3" text-anchor="middle" font-weight="bold" fill="#111" >12</text>
<line x1="454.20" y1="190.20" x2="454.20" y2="193.00" stroke="#1a1a1a" stroke-width="1.1" />
<text x="454.20" y="201.43" font-size="8.3" text-anchor="middle" font-weight="bold" fill="#111" >15</text>
<line x1="467.65" y1="190.20" x2="467.65" y2="193.00" stroke="#1a1a1a" stroke-width="1.1" />
<text x="467.65" y="201.43" font-size="8.3" text-anchor="middle" font-weight="bold" fill="#111" >16</text>
<line x1="481.10" y1="190.20" x2="481.10" y2="193.00" stroke="#1a1a1a" stroke-width="1.1" />
<text x="481.10" y="201.43" font-size="8.3" text-anchor="middle" font-weight="bold" fill="#111" >17</text>
<line x1="494.55" y1="190.20" x2="494.55" y2="193.00" stroke="#1a1a1a" stroke-width="1.1" />
<text x="494.55" y="201.43" font-size="8.3" text-anchor="middle" font-weight="bold" fill="#111" >18</text>
<text x="402.60" y="217.81" font-size="8.8" text-anchor="middle" font-weight="bold" fill="#111" >Days on therapy</text>
<text transform="translate(273.3,109.3) rotate(-90)" x="0" y="0" font-size="10.35" text-anchor="middle" font-weight="bold" fill="#111">Weight change (%)</text>
<line x1="298.80" y1="55.40" x2="502.00" y2="55.40" stroke="#555" stroke-width="0.9" stroke-dasharray="1 1.1"/>
<line x1="298.80" y1="123.00" x2="502.00" y2="123.00" stroke="#555" stroke-width="0.9" stroke-dasharray="1 1.1"/>
<line x1="319.70" y1="121.66" x2="319.70" y2="127.03" stroke="#f2b066" stroke-width="1.0" />
<line x1="317.70" y1="121.66" x2="321.70" y2="121.66" stroke="#f2b066" stroke-width="1.0" />
<line x1="317.70" y1="127.03" x2="321.70" y2="127.03" stroke="#f2b066" stroke-width="1.0" />
<line x1="333.15" y1="123.67" x2="333.15" y2="129.05" stroke="#f2b066" stroke-width="1.0" />
<line x1="331.15" y1="123.67" x2="335.15" y2="123.67" stroke="#f2b066" stroke-width="1.0" />
<line x1="331.15" y1="129.05" x2="335.15" y2="129.05" stroke="#f2b066" stroke-width="1.0" />
<line x1="346.60" y1="127.37" x2="346.60" y2="134.09" stroke="#f2b066" stroke-width="1.0" />
<line x1="344.60" y1="127.37" x2="348.60" y2="127.37" stroke="#f2b066" stroke-width="1.0" />
<line x1="344.60" y1="134.09" x2="348.60" y2="134.09" stroke="#f2b066" stroke-width="1.0" />
<line x1="360.05" y1="127.37" x2="360.05" y2="134.09" stroke="#f2b066" stroke-width="1.0" />
<line x1="358.05" y1="127.37" x2="362.05" y2="127.37" stroke="#f2b066" stroke-width="1.0" />
<line x1="358.05" y1="134.09" x2="362.05" y2="134.09" stroke="#f2b066" stroke-width="1.0" />
<line x1="373.50" y1="124.34" x2="373.50" y2="132.41" stroke="#f2b066" stroke-width="1.0" />
<line x1="371.50" y1="124.34" x2="375.50" y2="124.34" stroke="#f2b066" stroke-width="1.0" />
<line x1="371.50" y1="132.41" x2="375.50" y2="132.41" stroke="#f2b066" stroke-width="1.0" />
<line x1="386.95" y1="106.54" x2="386.95" y2="113.26" stroke="#f2b066" stroke-width="1.0" />
<line x1="384.95" y1="106.54" x2="388.95" y2="106.54" stroke="#f2b066" stroke-width="1.0" />
<line x1="384.95" y1="113.26" x2="388.95" y2="113.26" stroke="#f2b066" stroke-width="1.0" />
<line x1="400.40" y1="110.57" x2="400.40" y2="119.30" stroke="#f2b066" stroke-width="1.0" />
<line x1="398.40" y1="110.57" x2="402.40" y2="110.57" stroke="#f2b066" stroke-width="1.0" />
<line x1="398.40" y1="119.30" x2="402.40" y2="119.30" stroke="#f2b066" stroke-width="1.0" />
<line x1="413.85" y1="113.76" x2="413.85" y2="123.84" stroke="#f2b066" stroke-width="1.0" />
<line x1="411.85" y1="113.76" x2="415.85" y2="113.76" stroke="#f2b066" stroke-width="1.0" />
<line x1="411.85" y1="123.84" x2="415.85" y2="123.84" stroke="#f2b066" stroke-width="1.0" />
<line x1="427.30" y1="113.59" x2="427.30" y2="123.00" stroke="#f2b066" stroke-width="1.0" />
<line x1="425.30" y1="113.59" x2="429.30" y2="113.59" stroke="#f2b066" stroke-width="1.0" />
<line x1="425.30" y1="123.00" x2="429.30" y2="123.00" stroke="#f2b066" stroke-width="1.0" />
<line x1="440.75" y1="114.94" x2="440.75" y2="125.69" stroke="#f2b066" stroke-width="1.0" />
<line x1="438.75" y1="114.94" x2="442.75" y2="114.94" stroke="#f2b066" stroke-width="1.0" />
<line x1="438.75" y1="125.69" x2="442.75" y2="125.69" stroke="#f2b066" stroke-width="1.0" />
<line x1="454.20" y1="98.47" x2="454.20" y2="107.21" stroke="#f2b066" stroke-width="1.0" />
<line x1="452.20" y1="98.47" x2="456.20" y2="98.47" stroke="#f2b066" stroke-width="1.0" />
<line x1="452.20" y1="107.21" x2="456.20" y2="107.21" stroke="#f2b066" stroke-width="1.0" />
<line x1="467.65" y1="104.18" x2="467.65" y2="110.90" stroke="#f2b066" stroke-width="1.0" />
<line x1="465.65" y1="104.18" x2="469.65" y2="104.18" stroke="#f2b066" stroke-width="1.0" />
<line x1="465.65" y1="110.90" x2="469.65" y2="110.90" stroke="#f2b066" stroke-width="1.0" />
<line x1="481.10" y1="103.85" x2="481.10" y2="110.57" stroke="#f2b066" stroke-width="1.0" />
<line x1="479.10" y1="103.85" x2="483.10" y2="103.85" stroke="#f2b066" stroke-width="1.0" />
<line x1="479.10" y1="110.57" x2="483.10" y2="110.57" stroke="#f2b066" stroke-width="1.0" />
<line x1="494.55" y1="106.87" x2="494.55" y2="114.94" stroke="#f2b066" stroke-width="1.0" />
<line x1="492.55" y1="106.87" x2="496.55" y2="106.87" stroke="#f2b066" stroke-width="1.0" />
<line x1="492.55" y1="114.94" x2="496.55" y2="114.94" stroke="#f2b066" stroke-width="1.0" />
<polyline points="306.25,123.00 319.70,124.34 333.15,126.36 346.60,130.73 360.05,130.73 373.50,128.38 386.95,109.90 400.40,114.94 413.85,118.80 427.30,118.30 440.75,120.31 454.20,102.84 467.65,107.54 481.10,107.21 494.55,110.90" fill="none" stroke="#f2b066" stroke-width="1.2" stroke-linejoin="round" />
<polygon points="306.25,125.11 304.03,121.42 308.47,121.42" fill="#f2b066"/>
<polygon points="319.70,126.45 317.48,122.76 321.92,122.76" fill="#f2b066"/>
<polygon points="333.15,128.47 330.93,124.78 335.37,124.78" fill="#f2b066"/>
<polygon points="346.60,132.84 344.38,129.15 348.82,129.15" fill="#f2b066"/>
<polygon points="360.05,132.84 357.83,129.15 362.27,129.15" fill="#f2b066"/>
<polygon points="373.50,130.49 371.28,126.79 375.72,126.79" fill="#f2b066"/>
<polygon points="386.95,112.00 384.73,108.31 389.17,108.31" fill="#f2b066"/>
<polygon points="400.40,117.05 398.18,113.35 402.62,113.35" fill="#f2b066"/>
<polygon points="413.85,120.91 411.63,117.22 416.07,117.22" fill="#f2b066"/>
<polygon points="427.30,120.41 425.08,116.71 429.52,116.71" fill="#f2b066"/>
<polygon points="440.75,122.42 438.53,118.73 442.97,118.73" fill="#f2b066"/>
<polygon points="454.20,104.95 451.98,101.26 456.42,101.26" fill="#f2b066"/>
<polygon points="467.65,109.65 465.43,105.96 469.87,105.96" fill="#f2b066"/>
<polygon points="481.10,109.32 478.88,105.63 483.32,105.63" fill="#f2b066"/>
<polygon points="494.55,113.01 492.33,109.32 496.77,109.32" fill="#f2b066"/>
<line x1="319.70" y1="105.53" x2="319.70" y2="114.26" stroke="#141414" stroke-width="1.0" />
<line x1="317.70" y1="105.53" x2="321.70" y2="105.53" stroke="#141414" stroke-width="1.0" />
<line x1="317.70" y1="114.26" x2="321.70" y2="114.26" stroke="#141414" stroke-width="1.0" />
<line x1="333.15" y1="107.88" x2="333.15" y2="114.60" stroke="#141414" stroke-width="1.0" />
<line x1="331.15" y1="107.88" x2="335.15" y2="107.88" stroke="#141414" stroke-width="1.0" />
<line x1="331.15" y1="114.60" x2="335.15" y2="114.60" stroke="#141414" stroke-width="1.0" />
<line x1="346.60" y1="101.50" x2="346.60" y2="109.56" stroke="#141414" stroke-width="1.0" />
<line x1="344.60" y1="101.50" x2="348.60" y2="101.50" stroke="#141414" stroke-width="1.0" />
<line x1="344.60" y1="109.56" x2="348.60" y2="109.56" stroke="#141414" stroke-width="1.0" />
<line x1="360.05" y1="99.14" x2="360.05" y2="105.86" stroke="#141414" stroke-width="1.0" />
<line x1="358.05" y1="99.14" x2="362.05" y2="99.14" stroke="#141414" stroke-width="1.0" />
<line x1="358.05" y1="105.86" x2="362.05" y2="105.86" stroke="#141414" stroke-width="1.0" />
<line x1="373.50" y1="100.82" x2="373.50" y2="108.22" stroke="#141414" stroke-width="1.0" />
<line x1="371.50" y1="100.82" x2="375.50" y2="100.82" stroke="#141414" stroke-width="1.0" />
<line x1="371.50" y1="108.22" x2="375.50" y2="108.22" stroke="#141414" stroke-width="1.0" />
<line x1="386.95" y1="92.76" x2="386.95" y2="101.50" stroke="#141414" stroke-width="1.0" />
<line x1="384.95" y1="92.76" x2="388.95" y2="92.76" stroke="#141414" stroke-width="1.0" />
<line x1="384.95" y1="101.50" x2="388.95" y2="101.50" stroke="#141414" stroke-width="1.0" />
<line x1="400.40" y1="90.74" x2="400.40" y2="99.48" stroke="#141414" stroke-width="1.0" />
<line x1="398.40" y1="90.74" x2="402.40" y2="90.74" stroke="#141414" stroke-width="1.0" />
<line x1="398.40" y1="99.48" x2="402.40" y2="99.48" stroke="#141414" stroke-width="1.0" />
<line x1="413.85" y1="88.06" x2="413.85" y2="98.14" stroke="#141414" stroke-width="1.0" />
<line x1="411.85" y1="88.06" x2="415.85" y2="88.06" stroke="#141414" stroke-width="1.0" />
<line x1="411.85" y1="98.14" x2="415.85" y2="98.14" stroke="#141414" stroke-width="1.0" />
<line x1="427.30" y1="84.70" x2="427.30" y2="95.45" stroke="#141414" stroke-width="1.0" />
<line x1="425.30" y1="84.70" x2="429.30" y2="84.70" stroke="#141414" stroke-width="1.0" />
<line x1="425.30" y1="95.45" x2="429.30" y2="95.45" stroke="#141414" stroke-width="1.0" />
<line x1="440.75" y1="83.35" x2="440.75" y2="96.79" stroke="#141414" stroke-width="1.0" />
<line x1="438.75" y1="83.35" x2="442.75" y2="83.35" stroke="#141414" stroke-width="1.0" />
<line x1="438.75" y1="96.79" x2="442.75" y2="96.79" stroke="#141414" stroke-width="1.0" />
<line x1="454.20" y1="68.57" x2="454.20" y2="78.65" stroke="#141414" stroke-width="1.0" />
<line x1="452.20" y1="68.57" x2="456.20" y2="68.57" stroke="#141414" stroke-width="1.0" />
<line x1="452.20" y1="78.65" x2="456.20" y2="78.65" stroke="#141414" stroke-width="1.0" />
<line x1="467.65" y1="65.54" x2="467.65" y2="76.30" stroke="#141414" stroke-width="1.0" />
<line x1="465.65" y1="65.54" x2="469.65" y2="65.54" stroke="#141414" stroke-width="1.0" />
<line x1="465.65" y1="76.30" x2="469.65" y2="76.30" stroke="#141414" stroke-width="1.0" />
<line x1="481.10" y1="60.84" x2="481.10" y2="70.25" stroke="#141414" stroke-width="1.0" />
<line x1="479.10" y1="60.84" x2="483.10" y2="60.84" stroke="#141414" stroke-width="1.0" />
<line x1="479.10" y1="70.25" x2="483.10" y2="70.25" stroke="#141414" stroke-width="1.0" />
<line x1="494.55" y1="60.50" x2="494.55" y2="71.26" stroke="#141414" stroke-width="1.0" />
<line x1="492.55" y1="60.50" x2="496.55" y2="60.50" stroke="#141414" stroke-width="1.0" />
<line x1="492.55" y1="71.26" x2="496.55" y2="71.26" stroke="#141414" stroke-width="1.0" />
<polyline points="306.25,123.00 319.70,109.90 333.15,111.24 346.60,105.53 360.05,102.50 373.50,104.52 386.95,97.13 400.40,95.11 413.85,93.10 427.30,90.07 440.75,90.07 454.20,73.61 467.65,70.92 481.10,65.54 494.55,65.88" fill="none" stroke="#141414" stroke-width="1.2" stroke-linejoin="round" />
<circle cx="306.25" cy="123.00" r="1.85" fill="#141414"/>
<circle cx="319.70" cy="109.90" r="1.85" fill="#141414"/>
<circle cx="333.15" cy="111.24" r="1.85" fill="#141414"/>
<circle cx="346.60" cy="105.53" r="1.85" fill="#141414"/>
<circle cx="360.05" cy="102.50" r="1.85" fill="#141414"/>
<circle cx="373.50" cy="104.52" r="1.85" fill="#141414"/>
<circle cx="386.95" cy="97.13" r="1.85" fill="#141414"/>
<circle cx="400.40" cy="95.11" r="1.85" fill="#141414"/>
<circle cx="413.85" cy="93.10" r="1.85" fill="#141414"/>
<circle cx="427.30" cy="90.07" r="1.85" fill="#141414"/>
<circle cx="440.75" cy="90.07" r="1.85" fill="#141414"/>
<circle cx="454.20" cy="73.61" r="1.85" fill="#141414"/>
<circle cx="467.65" cy="70.92" r="1.85" fill="#141414"/>
<circle cx="481.10" cy="65.54" r="1.85" fill="#141414"/>
<circle cx="494.55" cy="65.88" r="1.85" fill="#141414"/>
<line x1="319.70" y1="97.63" x2="319.70" y2="103.01" stroke="#8c6a30" stroke-width="1.0" />
<line x1="317.70" y1="97.63" x2="321.70" y2="97.63" stroke="#8c6a30" stroke-width="1.0" />
<line x1="317.70" y1="103.01" x2="321.70" y2="103.01" stroke="#8c6a30" stroke-width="1.0" />
<line x1="333.15" y1="99.48" x2="333.15" y2="105.53" stroke="#8c6a30" stroke-width="1.0" />
<line x1="331.15" y1="99.48" x2="335.15" y2="99.48" stroke="#8c6a30" stroke-width="1.0" />
<line x1="331.15" y1="105.53" x2="335.15" y2="105.53" stroke="#8c6a30" stroke-width="1.0" />
<line x1="346.60" y1="95.11" x2="346.60" y2="101.16" stroke="#8c6a30" stroke-width="1.0" />
<line x1="344.60" y1="95.11" x2="348.60" y2="95.11" stroke="#8c6a30" stroke-width="1.0" />
<line x1="344.60" y1="101.16" x2="348.60" y2="101.16" stroke="#8c6a30" stroke-width="1.0" />
<line x1="360.05" y1="90.07" x2="360.05" y2="94.78" stroke="#8c6a30" stroke-width="1.0" />
<line x1="358.05" y1="90.07" x2="362.05" y2="90.07" stroke="#8c6a30" stroke-width="1.0" />
<line x1="358.05" y1="94.78" x2="362.05" y2="94.78" stroke="#8c6a30" stroke-width="1.0" />
<line x1="373.50" y1="93.10" x2="373.50" y2="99.14" stroke="#8c6a30" stroke-width="1.0" />
<line x1="371.50" y1="93.10" x2="375.50" y2="93.10" stroke="#8c6a30" stroke-width="1.0" />
<line x1="371.50" y1="99.14" x2="375.50" y2="99.14" stroke="#8c6a30" stroke-width="1.0" />
<line x1="386.95" y1="89.40" x2="386.95" y2="96.12" stroke="#8c6a30" stroke-width="1.0" />
<line x1="384.95" y1="89.40" x2="388.95" y2="89.40" stroke="#8c6a30" stroke-width="1.0" />
<line x1="384.95" y1="96.12" x2="388.95" y2="96.12" stroke="#8c6a30" stroke-width="1.0" />
<line x1="400.40" y1="86.71" x2="400.40" y2="94.78" stroke="#8c6a30" stroke-width="1.0" />
<line x1="398.40" y1="86.71" x2="402.40" y2="86.71" stroke="#8c6a30" stroke-width="1.0" />
<line x1="398.40" y1="94.78" x2="402.40" y2="94.78" stroke="#8c6a30" stroke-width="1.0" />
<line x1="413.85" y1="79.32" x2="413.85" y2="87.38" stroke="#8c6a30" stroke-width="1.0" />
<line x1="411.85" y1="79.32" x2="415.85" y2="79.32" stroke="#8c6a30" stroke-width="1.0" />
<line x1="411.85" y1="87.38" x2="415.85" y2="87.38" stroke="#8c6a30" stroke-width="1.0" />
<line x1="427.30" y1="75.29" x2="427.30" y2="84.70" stroke="#8c6a30" stroke-width="1.0" />
<line x1="425.30" y1="75.29" x2="429.30" y2="75.29" stroke="#8c6a30" stroke-width="1.0" />
<line x1="425.30" y1="84.70" x2="429.30" y2="84.70" stroke="#8c6a30" stroke-width="1.0" />
<line x1="440.75" y1="70.58" x2="440.75" y2="79.99" stroke="#8c6a30" stroke-width="1.0" />
<line x1="438.75" y1="70.58" x2="442.75" y2="70.58" stroke="#8c6a30" stroke-width="1.0" />
<line x1="438.75" y1="79.99" x2="442.75" y2="79.99" stroke="#8c6a30" stroke-width="1.0" />
<line x1="454.20" y1="65.54" x2="454.20" y2="75.62" stroke="#8c6a30" stroke-width="1.0" />
<line x1="452.20" y1="65.54" x2="456.20" y2="65.54" stroke="#8c6a30" stroke-width="1.0" />
<line x1="452.20" y1="75.62" x2="456.20" y2="75.62" stroke="#8c6a30" stroke-width="1.0" />
<line x1="467.65" y1="60.17" x2="467.65" y2="68.90" stroke="#8c6a30" stroke-width="1.0" />
<line x1="465.65" y1="60.17" x2="469.65" y2="60.17" stroke="#8c6a30" stroke-width="1.0" />
<line x1="465.65" y1="68.90" x2="469.65" y2="68.90" stroke="#8c6a30" stroke-width="1.0" />
<line x1="481.10" y1="61.51" x2="481.10" y2="69.58" stroke="#8c6a30" stroke-width="1.0" />
<line x1="479.10" y1="61.51" x2="483.10" y2="61.51" stroke="#8c6a30" stroke-width="1.0" />
<line x1="479.10" y1="69.58" x2="483.10" y2="69.58" stroke="#8c6a30" stroke-width="1.0" />
<line x1="494.55" y1="61.51" x2="494.55" y2="70.25" stroke="#8c6a30" stroke-width="1.0" />
<line x1="492.55" y1="61.51" x2="496.55" y2="61.51" stroke="#8c6a30" stroke-width="1.0" />
<line x1="492.55" y1="70.25" x2="496.55" y2="70.25" stroke="#8c6a30" stroke-width="1.0" />
<polyline points="306.25,123.00 319.70,100.32 333.15,102.50 346.60,98.14 360.05,92.42 373.50,96.12 386.95,92.76 400.40,90.74 413.85,83.35 427.30,79.99 440.75,75.29 454.20,70.58 467.65,64.54 481.10,65.54 494.55,65.88" fill="none" stroke="#8c6a30" stroke-width="1.2" stroke-linejoin="round" />
<rect x="304.40" y="121.15" width="3.70" height="3.70" fill="#8c6a30"/>
<rect x="317.85" y="98.47" width="3.70" height="3.70" fill="#8c6a30"/>
<rect x="331.30" y="100.65" width="3.70" height="3.70" fill="#8c6a30"/>
<rect x="344.75" y="96.29" width="3.70" height="3.70" fill="#8c6a30"/>
<rect x="358.20" y="90.57" width="3.70" height="3.70" fill="#8c6a30"/>
<rect x="371.65" y="94.27" width="3.70" height="3.70" fill="#8c6a30"/>
<rect x="385.10" y="90.91" width="3.70" height="3.70" fill="#8c6a30"/>
<rect x="398.55" y="88.89" width="3.70" height="3.70" fill="#8c6a30"/>
<rect x="412.00" y="81.50" width="3.70" height="3.70" fill="#8c6a30"/>
<rect x="425.45" y="78.14" width="3.70" height="3.70" fill="#8c6a30"/>
<rect x="438.90" y="73.44" width="3.70" height="3.70" fill="#8c6a30"/>
<rect x="452.35" y="68.73" width="3.70" height="3.70" fill="#8c6a30"/>
<rect x="465.80" y="62.69" width="3.70" height="3.70" fill="#8c6a30"/>
<rect x="479.25" y="63.69" width="3.70" height="3.70" fill="#8c6a30"/>
<rect x="492.70" y="64.03" width="3.70" height="3.70" fill="#8c6a30"/>
<line x1="319.70" y1="97.46" x2="319.70" y2="104.18" stroke="#2ab52a" stroke-width="1.0" />
<line x1="317.70" y1="97.46" x2="321.70" y2="97.46" stroke="#2ab52a" stroke-width="1.0" />
<line x1="317.70" y1="104.18" x2="321.70" y2="104.18" stroke="#2ab52a" stroke-width="1.0" />
<line x1="333.15" y1="100.15" x2="333.15" y2="106.87" stroke="#2ab52a" stroke-width="1.0" />
<line x1="331.15" y1="100.15" x2="335.15" y2="100.15" stroke="#2ab52a" stroke-width="1.0" />
<line x1="331.15" y1="106.87" x2="335.15" y2="106.87" stroke="#2ab52a" stroke-width="1.0" />
<line x1="346.60" y1="96.79" x2="346.60" y2="104.86" stroke="#2ab52a" stroke-width="1.0" />
<line x1="344.60" y1="96.79" x2="348.60" y2="96.79" stroke="#2ab52a" stroke-width="1.0" />
<line x1="344.60" y1="104.86" x2="348.60" y2="104.86" stroke="#2ab52a" stroke-width="1.0" />
<line x1="360.05" y1="97.46" x2="360.05" y2="107.54" stroke="#2ab52a" stroke-width="1.0" />
<line x1="358.05" y1="97.46" x2="362.05" y2="97.46" stroke="#2ab52a" stroke-width="1.0" />
<line x1="358.05" y1="107.54" x2="362.05" y2="107.54" stroke="#2ab52a" stroke-width="1.0" />
<line x1="373.50" y1="98.14" x2="373.50" y2="106.87" stroke="#2ab52a" stroke-width="1.0" />
<line x1="371.50" y1="98.14" x2="375.50" y2="98.14" stroke="#2ab52a" stroke-width="1.0" />
<line x1="371.50" y1="106.87" x2="375.50" y2="106.87" stroke="#2ab52a" stroke-width="1.0" />
<line x1="386.95" y1="83.35" x2="386.95" y2="94.78" stroke="#2ab52a" stroke-width="1.0" />
<line x1="384.95" y1="83.35" x2="388.95" y2="83.35" stroke="#2ab52a" stroke-width="1.0" />
<line x1="384.95" y1="94.78" x2="388.95" y2="94.78" stroke="#2ab52a" stroke-width="1.0" />
<line x1="400.40" y1="81.67" x2="400.40" y2="93.77" stroke="#2ab52a" stroke-width="1.0" />
<line x1="398.40" y1="81.67" x2="402.40" y2="81.67" stroke="#2ab52a" stroke-width="1.0" />
<line x1="398.40" y1="93.77" x2="402.40" y2="93.77" stroke="#2ab52a" stroke-width="1.0" />
<line x1="413.85" y1="76.63" x2="413.85" y2="90.07" stroke="#2ab52a" stroke-width="1.0" />
<line x1="411.85" y1="76.63" x2="415.85" y2="76.63" stroke="#2ab52a" stroke-width="1.0" />
<line x1="411.85" y1="90.07" x2="415.85" y2="90.07" stroke="#2ab52a" stroke-width="1.0" />
<line x1="427.30" y1="72.60" x2="427.30" y2="86.04" stroke="#2ab52a" stroke-width="1.0" />
<line x1="425.30" y1="72.60" x2="429.30" y2="72.60" stroke="#2ab52a" stroke-width="1.0" />
<line x1="425.30" y1="86.04" x2="429.30" y2="86.04" stroke="#2ab52a" stroke-width="1.0" />
<line x1="440.75" y1="67.90" x2="440.75" y2="82.68" stroke="#2ab52a" stroke-width="1.0" />
<line x1="438.75" y1="67.90" x2="442.75" y2="67.90" stroke="#2ab52a" stroke-width="1.0" />
<line x1="438.75" y1="82.68" x2="442.75" y2="82.68" stroke="#2ab52a" stroke-width="1.0" />
<line x1="454.20" y1="46.39" x2="454.20" y2="63.86" stroke="#2ab52a" stroke-width="1.0" />
<line x1="452.20" y1="46.39" x2="456.20" y2="46.39" stroke="#2ab52a" stroke-width="1.0" />
<line x1="452.20" y1="63.86" x2="456.20" y2="63.86" stroke="#2ab52a" stroke-width="1.0" />
<line x1="467.65" y1="52.78" x2="467.65" y2="68.90" stroke="#2ab52a" stroke-width="1.0" />
<line x1="465.65" y1="52.78" x2="469.65" y2="52.78" stroke="#2ab52a" stroke-width="1.0" />
<line x1="465.65" y1="68.90" x2="469.65" y2="68.90" stroke="#2ab52a" stroke-width="1.0" />
<line x1="481.10" y1="55.80" x2="481.10" y2="70.58" stroke="#2ab52a" stroke-width="1.0" />
<line x1="479.10" y1="55.80" x2="483.10" y2="55.80" stroke="#2ab52a" stroke-width="1.0" />
<line x1="479.10" y1="70.58" x2="483.10" y2="70.58" stroke="#2ab52a" stroke-width="1.0" />
<line x1="494.55" y1="59.83" x2="494.55" y2="74.62" stroke="#2ab52a" stroke-width="1.0" />
<line x1="492.55" y1="59.83" x2="496.55" y2="59.83" stroke="#2ab52a" stroke-width="1.0" />
<line x1="492.55" y1="74.62" x2="496.55" y2="74.62" stroke="#2ab52a" stroke-width="1.0" />
<polyline points="306.25,123.00 319.70,100.82 333.15,103.51 346.60,100.82 360.05,102.50 373.50,102.50 386.95,89.06 400.40,87.72 413.85,83.35 427.30,79.32 440.75,75.29 454.20,55.13 467.65,60.84 481.10,63.19 494.55,67.22" fill="none" stroke="#2ab52a" stroke-width="1.2" stroke-linejoin="round" />
<polygon points="306.25,120.89 304.03,124.58 308.47,124.58" fill="#2ab52a"/>
<polygon points="319.70,98.72 317.48,102.41 321.92,102.41" fill="#2ab52a"/>
<polygon points="333.15,101.40 330.93,105.09 335.37,105.09" fill="#2ab52a"/>
<polygon points="346.60,98.72 344.38,102.41 348.82,102.41" fill="#2ab52a"/>
<polygon points="360.05,100.40 357.83,104.09 362.27,104.09" fill="#2ab52a"/>
<polygon points="373.50,100.40 371.28,104.09 375.72,104.09" fill="#2ab52a"/>
<polygon points="386.95,86.95 384.73,90.65 389.17,90.65" fill="#2ab52a"/>
<polygon points="400.40,85.61 398.18,89.30 402.62,89.30" fill="#2ab52a"/>
<polygon points="413.85,81.24 411.63,84.93 416.07,84.93" fill="#2ab52a"/>
<polygon points="427.30,77.21 425.08,80.90 429.52,80.90" fill="#2ab52a"/>
<polygon points="440.75,73.18 438.53,76.87 442.97,76.87" fill="#2ab52a"/>
<polygon points="454.20,53.02 451.98,56.71 456.42,56.71" fill="#2ab52a"/>
<polygon points="467.65,58.73 465.43,62.42 469.87,62.42" fill="#2ab52a"/>
<polygon points="481.10,61.08 478.88,64.77 483.32,64.77" fill="#2ab52a"/>
<polygon points="494.55,65.11 492.33,68.81 496.77,68.81" fill="#2ab52a"/>
<line x1="319.70" y1="123.67" x2="319.70" y2="129.05" stroke="#1c1c9a" stroke-width="1.0" />
<line x1="317.70" y1="123.67" x2="321.70" y2="123.67" stroke="#1c1c9a" stroke-width="1.0" />
<line x1="317.70" y1="129.05" x2="321.70" y2="129.05" stroke="#1c1c9a" stroke-width="1.0" />
<line x1="333.15" y1="125.02" x2="333.15" y2="128.38" stroke="#1c1c9a" stroke-width="1.0" />
<line x1="331.15" y1="125.02" x2="335.15" y2="125.02" stroke="#1c1c9a" stroke-width="1.0" />
<line x1="331.15" y1="128.38" x2="335.15" y2="128.38" stroke="#1c1c9a" stroke-width="1.0" />
<line x1="346.60" y1="123.67" x2="346.60" y2="129.05" stroke="#1c1c9a" stroke-width="1.0" />
<line x1="344.60" y1="123.67" x2="348.60" y2="123.67" stroke="#1c1c9a" stroke-width="1.0" />
<line x1="344.60" y1="129.05" x2="348.60" y2="129.05" stroke="#1c1c9a" stroke-width="1.0" />
<line x1="360.05" y1="124.34" x2="360.05" y2="132.41" stroke="#1c1c9a" stroke-width="1.0" />
<line x1="358.05" y1="124.34" x2="362.05" y2="124.34" stroke="#1c1c9a" stroke-width="1.0" />
<line x1="358.05" y1="132.41" x2="362.05" y2="132.41" stroke="#1c1c9a" stroke-width="1.0" />
<line x1="373.50" y1="117.96" x2="373.50" y2="128.04" stroke="#1c1c9a" stroke-width="1.0" />
<line x1="371.50" y1="117.96" x2="375.50" y2="117.96" stroke="#1c1c9a" stroke-width="1.0" />
<line x1="371.50" y1="128.04" x2="375.50" y2="128.04" stroke="#1c1c9a" stroke-width="1.0" />
<line x1="386.95" y1="114.60" x2="386.95" y2="126.70" stroke="#1c1c9a" stroke-width="1.0" />
<line x1="384.95" y1="114.60" x2="388.95" y2="114.60" stroke="#1c1c9a" stroke-width="1.0" />
<line x1="384.95" y1="126.70" x2="388.95" y2="126.70" stroke="#1c1c9a" stroke-width="1.0" />
<line x1="400.40" y1="118.30" x2="400.40" y2="127.70" stroke="#1c1c9a" stroke-width="1.0" />
<line x1="398.40" y1="118.30" x2="402.40" y2="118.30" stroke="#1c1c9a" stroke-width="1.0" />
<line x1="398.40" y1="127.70" x2="402.40" y2="127.70" stroke="#1c1c9a" stroke-width="1.0" />
<line x1="413.85" y1="119.98" x2="413.85" y2="132.07" stroke="#1c1c9a" stroke-width="1.0" />
<line x1="411.85" y1="119.98" x2="415.85" y2="119.98" stroke="#1c1c9a" stroke-width="1.0" />
<line x1="411.85" y1="132.07" x2="415.85" y2="132.07" stroke="#1c1c9a" stroke-width="1.0" />
<line x1="427.30" y1="125.02" x2="427.30" y2="139.80" stroke="#1c1c9a" stroke-width="1.0" />
<line x1="425.30" y1="125.02" x2="429.30" y2="125.02" stroke="#1c1c9a" stroke-width="1.0" />
<line x1="425.30" y1="139.80" x2="429.30" y2="139.80" stroke="#1c1c9a" stroke-width="1.0" />
<line x1="440.75" y1="130.39" x2="440.75" y2="142.49" stroke="#1c1c9a" stroke-width="1.0" />
<line x1="438.75" y1="130.39" x2="442.75" y2="130.39" stroke="#1c1c9a" stroke-width="1.0" />
<line x1="438.75" y1="142.49" x2="442.75" y2="142.49" stroke="#1c1c9a" stroke-width="1.0" />
<line x1="454.20" y1="148.87" x2="454.20" y2="162.31" stroke="#1c1c9a" stroke-width="1.0" />
<line x1="452.20" y1="148.87" x2="456.20" y2="148.87" stroke="#1c1c9a" stroke-width="1.0" />
<line x1="452.20" y1="162.31" x2="456.20" y2="162.31" stroke="#1c1c9a" stroke-width="1.0" />
<line x1="467.65" y1="149.21" x2="467.65" y2="161.30" stroke="#1c1c9a" stroke-width="1.0" />
<line x1="465.65" y1="149.21" x2="469.65" y2="149.21" stroke="#1c1c9a" stroke-width="1.0" />
<line x1="465.65" y1="161.30" x2="469.65" y2="161.30" stroke="#1c1c9a" stroke-width="1.0" />
<line x1="481.10" y1="147.19" x2="481.10" y2="160.63" stroke="#1c1c9a" stroke-width="1.0" />
<line x1="479.10" y1="147.19" x2="483.10" y2="147.19" stroke="#1c1c9a" stroke-width="1.0" />
<line x1="479.10" y1="160.63" x2="483.10" y2="160.63" stroke="#1c1c9a" stroke-width="1.0" />
<line x1="494.55" y1="143.16" x2="494.55" y2="153.91" stroke="#1c1c9a" stroke-width="1.0" />
<line x1="492.55" y1="143.16" x2="496.55" y2="143.16" stroke="#1c1c9a" stroke-width="1.0" />
<line x1="492.55" y1="153.91" x2="496.55" y2="153.91" stroke="#1c1c9a" stroke-width="1.0" />
<polyline points="306.25,123.00 319.70,126.36 333.15,126.70 346.60,126.36 360.05,128.38 373.50,123.00 386.95,120.65 400.40,123.00 413.85,126.02 427.30,132.41 440.75,136.44 454.20,155.59 467.65,155.26 481.10,153.91 494.55,148.54" fill="none" stroke="#1c1c9a" stroke-width="1.2" stroke-linejoin="round" />
<polygon points="306.25,120.71 308.54,123.00 306.25,125.29 303.96,123.00" fill="#1c1c9a"/>
<polygon points="319.70,124.07 321.99,126.36 319.70,128.65 317.41,126.36" fill="#1c1c9a"/>
<polygon points="333.15,124.40 335.44,126.70 333.15,128.99 330.86,126.70" fill="#1c1c9a"/>
<polygon points="346.60,124.07 348.89,126.36 346.60,128.65 344.31,126.36" fill="#1c1c9a"/>
<polygon points="360.05,126.08 362.34,128.38 360.05,130.67 357.76,128.38" fill="#1c1c9a"/>
<polygon points="373.50,120.71 375.79,123.00 373.50,125.29 371.21,123.00" fill="#1c1c9a"/>
<polygon points="386.95,118.35 389.24,120.65 386.95,122.94 384.66,120.65" fill="#1c1c9a"/>
<polygon points="400.40,120.71 402.69,123.00 400.40,125.29 398.11,123.00" fill="#1c1c9a"/>
<polygon points="413.85,123.73 416.14,126.02 413.85,128.32 411.56,126.02" fill="#1c1c9a"/>
<polygon points="427.30,130.11 429.59,132.41 427.30,134.70 425.01,132.41" fill="#1c1c9a"/>
<polygon points="440.75,134.15 443.04,136.44 440.75,138.73 438.46,136.44" fill="#1c1c9a"/>
<polygon points="454.20,153.30 456.49,155.59 454.20,157.89 451.91,155.59" fill="#1c1c9a"/>
<polygon points="467.65,152.96 469.94,155.26 467.65,157.55 465.36,155.26" fill="#1c1c9a"/>
<polygon points="481.10,151.62 483.39,153.91 481.10,156.21 478.81,153.91" fill="#1c1c9a"/>
<polygon points="494.55,146.24 496.84,148.54 494.55,150.83 492.26,148.54" fill="#1c1c9a"/>
<polygon points="501.93,147.45 502.51,148.69 503.87,148.87 502.88,149.81 503.13,151.16 501.93,150.50 500.72,151.16 500.97,149.81 499.98,148.87 501.34,148.69" fill="#111" stroke="#111" stroke-width="0.35" stroke-linejoin="round"/>
<polygon points="506.38,147.45 506.96,148.69 508.32,148.87 507.33,149.81 507.58,151.16 506.38,150.50 505.17,151.16 505.42,149.81 504.43,148.87 505.79,148.69" fill="#111" stroke="#111" stroke-width="0.35" stroke-linejoin="round"/>
<polygon points="510.83,147.45 511.41,148.69 512.77,148.87 511.78,149.81 512.03,151.16 510.83,150.50 509.62,151.16 509.87,149.81 508.88,148.87 510.24,148.69" fill="#111" stroke="#111" stroke-width="0.35" stroke-linejoin="round"/>
<polygon points="515.27,147.45 515.86,148.69 517.22,148.87 516.23,149.81 516.48,151.16 515.27,150.50 514.07,151.16 514.32,149.81 513.33,148.87 514.69,148.69" fill="#111" stroke="#111" stroke-width="0.35" stroke-linejoin="round"/>
<line x1="302.30" y1="158.70" x2="312.30" y2="158.70" stroke="#141414" stroke-width="1.2" />
<circle cx="307.30" cy="158.70" r="1.95" fill="#141414"/>
<text x="316.90" y="162.20" font-size="9.6" text-anchor="start" font-weight="bold" fill="#111" >Vehicle</text>
<line x1="302.30" y1="170.50" x2="312.30" y2="170.50" stroke="#8c6a30" stroke-width="1.2" />
<rect x="305.35" y="168.55" width="3.90" height="3.90" fill="#8c6a30"/>
<text x="316.90" y="174.00" font-size="9.6" text-anchor="start" font-weight="bold" fill="#111" >5 mg/kg VERU-111</text>
<line x1="302.30" y1="182.10" x2="312.30" y2="182.10" stroke="#2ab52a" stroke-width="1.2" />
<polygon points="307.30,179.88 304.96,183.77 309.64,183.77" fill="#2ab52a"/>
<text x="316.90" y="185.60" font-size="9.6" text-anchor="start" font-weight="bold" fill="#111" >10 mg/kg VERU-111</text>
<line x1="409.60" y1="170.70" x2="419.60" y2="170.70" stroke="#f2b066" stroke-width="1.2" />
<polygon points="414.60,172.92 412.26,169.03 416.94,169.03" fill="#f2b066"/>
<text x="424.00" y="174.20" font-size="9.6" text-anchor="start" font-weight="bold" fill="#111" >12.5 mg/kg VERU-111</text>
<line x1="409.60" y1="181.70" x2="419.60" y2="181.70" stroke="#1c1c9a" stroke-width="1.2" />
<polygon points="414.60,179.28 417.02,181.70 414.60,184.12 412.18,181.70" fill="#1c1c9a"/>
<text x="424.00" y="185.07" font-size="9.25" text-anchor="start" font-weight="bold" fill="#111" >12.5 mg/kg paclitaxel</text>
<text x="145.60" y="246.77" font-size="10.9" text-anchor="middle" font-weight="bold" fill="#111" >Final tumor volume</text>
<line x1="44.00" y1="261.40" x2="44.00" y2="431.00" stroke="#7a7a7a" stroke-width="1.6" />
<line x1="43.50" y1="430.40" x2="248.00" y2="430.40" stroke="#444" stroke-width="1.3" />
<line x1="41.20" y1="430.40" x2="44.00" y2="430.40" stroke="#7a7a7a" stroke-width="1.1" />
<text transform="translate(40.20,434.13) scale(1.07,1)" font-size="8.6" text-anchor="end" font-weight="bold" fill="#111">0</text>
<line x1="41.20" y1="388.10" x2="44.00" y2="388.10" stroke="#7a7a7a" stroke-width="1.1" />
<text transform="translate(40.20,391.83) scale(1.07,1)" font-size="8.6" text-anchor="end" font-weight="bold" fill="#111">500</text>
<line x1="41.20" y1="345.80" x2="44.00" y2="345.80" stroke="#7a7a7a" stroke-width="1.1" />
<text transform="translate(40.20,349.53) scale(1.07,1)" font-size="8.6" text-anchor="end" font-weight="bold" fill="#111">1,000</text>
<line x1="41.20" y1="303.50" x2="44.00" y2="303.50" stroke="#7a7a7a" stroke-width="1.1" />
<text transform="translate(40.20,307.23) scale(1.07,1)" font-size="8.6" text-anchor="end" font-weight="bold" fill="#111">1,500</text>
<line x1="41.20" y1="261.20" x2="44.00" y2="261.20" stroke="#7a7a7a" stroke-width="1.1" />
<text transform="translate(40.20,264.93) scale(1.07,1)" font-size="8.6" text-anchor="end" font-weight="bold" fill="#111">2,000</text>
<text transform="translate(11.6,341.2) rotate(-90)" x="0" y="0" font-size="10.1" text-anchor="middle" font-weight="bold" fill="#111">Tumor volume (mm<tspan font-size="6.5" dy="-3.5">3</tspan><tspan dy="3.5">)</tspan></text>
<line x1="69.00" y1="430.40" x2="69.00" y2="433.20" stroke="#1a1a1a" stroke-width="1.1" />
<line x1="107.30" y1="430.40" x2="107.30" y2="433.20" stroke="#1a1a1a" stroke-width="1.1" />
<line x1="145.60" y1="430.40" x2="145.60" y2="433.20" stroke="#1a1a1a" stroke-width="1.1" />
<line x1="183.60" y1="430.40" x2="183.60" y2="433.20" stroke="#1a1a1a" stroke-width="1.1" />
<line x1="221.60" y1="430.40" x2="221.60" y2="433.20" stroke="#1a1a1a" stroke-width="1.1" />
<text x="65.30" y="442.61" font-size="8.25" text-anchor="middle" font-weight="bold" fill="#111" >Vehicle</text>
<text x="65.10" y="453.31" font-size="8.25" text-anchor="middle" font-weight="bold" fill="#111" >control</text>
<text x="102.60" y="442.61" font-size="8.25" text-anchor="middle" font-weight="bold" fill="#111" >5 mg/kg</text>
<text x="102.50" y="453.31" font-size="8.25" text-anchor="middle" font-weight="bold" fill="#111" >VERU-111</text>
<text x="144.00" y="442.61" font-size="8.25" text-anchor="middle" font-weight="bold" fill="#111" >10 mg/kg</text>
<text x="144.00" y="453.31" font-size="8.25" text-anchor="middle" font-weight="bold" fill="#111" >VERU-111</text>
<text x="185.40" y="442.61" font-size="8.25" text-anchor="middle" font-weight="bold" fill="#111" >12.5 mg/kg</text>
<text x="186.60" y="453.31" font-size="8.25" text-anchor="middle" font-weight="bold" fill="#111" >VERU-111</text>
<text x="228.90" y="442.61" font-size="8.25" text-anchor="middle" font-weight="bold" fill="#111" >12.5 mg/kg</text>
<text x="231.90" y="453.31" font-size="8.25" text-anchor="middle" font-weight="bold" fill="#111" >paclitaxel</text>
<circle cx="69.50" cy="281.30" r="1.95" fill="#141414"/>
<circle cx="69.50" cy="317.00" r="1.95" fill="#141414"/>
<circle cx="72.00" cy="327.50" r="1.95" fill="#141414"/>
<circle cx="66.60" cy="330.60" r="1.95" fill="#141414"/>
<circle cx="69.50" cy="344.90" r="1.95" fill="#141414"/>
<circle cx="72.00" cy="349.80" r="1.95" fill="#141414"/>
<circle cx="66.60" cy="352.80" r="1.95" fill="#141414"/>
<circle cx="64.00" cy="360.00" r="1.95" fill="#141414"/>
<circle cx="74.80" cy="358.00" r="1.95" fill="#141414"/>
<circle cx="69.50" cy="362.40" r="1.95" fill="#141414"/>
<circle cx="66.60" cy="375.40" r="1.95" fill="#141414"/>
<circle cx="72.00" cy="375.00" r="1.95" fill="#141414"/>
<circle cx="79.70" cy="379.00" r="1.95" fill="#141414"/>
<circle cx="66.60" cy="381.20" r="1.95" fill="#141414"/>
<circle cx="74.40" cy="381.60" r="1.95" fill="#141414"/>
<circle cx="59.60" cy="384.70" r="1.95" fill="#141414"/>
<circle cx="61.90" cy="383.60" r="1.95" fill="#141414"/>
<circle cx="69.50" cy="384.20" r="1.95" fill="#141414"/>
<circle cx="79.30" cy="386.80" r="1.95" fill="#141414"/>
<circle cx="64.30" cy="387.70" r="1.95" fill="#141414"/>
<circle cx="69.50" cy="389.40" r="1.95" fill="#141414"/>
<circle cx="74.40" cy="388.50" r="1.95" fill="#141414"/>
<circle cx="61.90" cy="392.00" r="1.95" fill="#141414"/>
<circle cx="79.70" cy="394.10" r="1.95" fill="#141414"/>
<circle cx="67.10" cy="395.50" r="1.95" fill="#141414"/>
<circle cx="74.80" cy="396.90" r="1.95" fill="#141414"/>
<circle cx="71.80" cy="398.70" r="1.95" fill="#141414"/>
<circle cx="66.60" cy="402.50" r="1.95" fill="#141414"/>
<rect x="103.00" y="372.30" width="3.40" height="3.40" fill="#8c6a30"/>
<rect x="108.30" y="371.10" width="3.40" height="3.40" fill="#8c6a30"/>
<rect x="103.00" y="378.00" width="3.40" height="3.40" fill="#8c6a30"/>
<rect x="108.30" y="379.40" width="3.40" height="3.40" fill="#8c6a30"/>
<rect x="100.20" y="384.10" width="3.40" height="3.40" fill="#8c6a30"/>
<rect x="105.60" y="386.80" width="3.40" height="3.40" fill="#8c6a30"/>
<rect x="110.90" y="385.50" width="3.40" height="3.40" fill="#8c6a30"/>
<rect x="103.00" y="391.50" width="3.40" height="3.40" fill="#8c6a30"/>
<rect x="105.60" y="391.50" width="3.40" height="3.40" fill="#8c6a30"/>
<rect x="110.90" y="392.90" width="3.40" height="3.40" fill="#8c6a30"/>
<rect x="103.00" y="397.80" width="3.40" height="3.40" fill="#8c6a30"/>
<rect x="108.30" y="397.20" width="3.40" height="3.40" fill="#8c6a30"/>
<rect x="97.60" y="401.30" width="3.40" height="3.40" fill="#8c6a30"/>
<rect x="103.00" y="403.70" width="3.40" height="3.40" fill="#8c6a30"/>
<rect x="108.30" y="403.70" width="3.40" height="3.40" fill="#8c6a30"/>
<rect x="113.50" y="403.00" width="3.40" height="3.40" fill="#8c6a30"/>
<rect x="105.60" y="416.40" width="3.40" height="3.40" fill="#8c6a30"/>
<polygon points="145.60,383.45 143.44,387.04 147.76,387.04" fill="#2ab52a"/>
<polygon points="140.40,395.95 138.24,399.54 142.56,399.54" fill="#2ab52a"/>
<polygon points="145.60,398.65 143.44,402.24 147.76,402.24" fill="#2ab52a"/>
<polygon points="150.80,398.25 148.64,401.84 152.96,401.84" fill="#2ab52a"/>
<polygon points="156.10,400.35 153.94,403.94 158.26,403.94" fill="#2ab52a"/>
<polygon points="135.10,402.15 132.94,405.74 137.26,405.74" fill="#2ab52a"/>
<polygon points="139.00,402.15 136.84,405.74 141.16,405.74" fill="#2ab52a"/>
<polygon points="142.50,403.35 140.34,406.94 144.66,406.94" fill="#2ab52a"/>
<polygon points="145.90,402.95 143.74,406.54 148.06,406.54" fill="#2ab52a"/>
<polygon points="149.40,402.65 147.24,406.24 151.56,406.24" fill="#2ab52a"/>
<polygon points="152.90,402.95 150.74,406.54 155.06,406.54" fill="#2ab52a"/>
<polygon points="142.50,405.65 140.34,409.24 144.66,409.24" fill="#2ab52a"/>
<polygon points="147.70,407.35 145.54,410.94 149.86,410.94" fill="#2ab52a"/>
<polygon points="142.50,411.35 140.34,414.94 144.66,414.94" fill="#2ab52a"/>
<polygon points="137.20,403.35 135.04,406.94 139.36,406.94" fill="#2ab52a"/>
<polygon points="183.60,388.75 181.44,385.16 185.76,385.16" fill="#f4a64a"/>
<polygon points="180.90,398.35 178.74,394.76 183.06,394.76" fill="#f4a64a"/>
<polygon points="188.80,402.35 186.64,398.76 190.96,398.76" fill="#f4a64a"/>
<polygon points="191.10,403.65 188.94,400.06 193.26,400.06" fill="#f4a64a"/>
<polygon points="175.70,405.05 173.54,401.46 177.86,401.46" fill="#f4a64a"/>
<polygon points="172.60,408.85 170.44,405.26 174.76,405.26" fill="#f4a64a"/>
<polygon points="177.50,409.75 175.34,406.16 179.66,406.16" fill="#f4a64a"/>
<polygon points="180.10,408.85 177.94,405.26 182.26,405.26" fill="#f4a64a"/>
<polygon points="183.60,408.45 181.44,404.86 185.76,404.86" fill="#f4a64a"/>
<polygon points="187.00,407.95 184.84,404.36 189.16,404.36" fill="#f4a64a"/>
<polygon points="189.70,410.25 187.54,406.66 191.86,406.66" fill="#f4a64a"/>
<polygon points="194.60,408.85 192.44,405.26 196.76,405.26" fill="#f4a64a"/>
<polygon points="185.30,414.05 183.14,410.46 187.46,410.46" fill="#f4a64a"/>
<polygon points="177.50,417.25 175.34,413.66 179.66,413.66" fill="#f4a64a"/>
<polygon points="183.60,419.65 181.44,416.06 185.76,416.06" fill="#f4a64a"/>
<polygon points="188.80,417.95 186.64,414.36 190.96,414.36" fill="#f4a64a"/>
<polygon points="221.60,392.09 223.71,394.20 221.60,396.31 219.49,394.20" fill="#1c1c9a"/>
<polygon points="218.90,394.59 221.01,396.70 218.90,398.81 216.79,396.70" fill="#1c1c9a"/>
<polygon points="226.80,397.69 228.91,399.80 226.80,401.91 224.69,399.80" fill="#1c1c9a"/>
<polygon points="229.40,399.99 231.51,402.10 229.40,404.21 227.29,402.10" fill="#1c1c9a"/>
<polygon points="211.10,402.09 213.21,404.20 211.10,406.31 208.99,404.20" fill="#1c1c9a"/>
<polygon points="218.90,402.89 221.01,405.00 218.90,407.11 216.79,405.00" fill="#1c1c9a"/>
<polygon points="224.20,403.29 226.31,405.40 224.20,407.51 222.09,405.40" fill="#1c1c9a"/>
<polygon points="213.70,406.79 215.81,408.90 213.70,411.01 211.59,408.90" fill="#1c1c9a"/>
<polygon points="218.90,408.49 221.01,410.60 218.90,412.71 216.79,410.60" fill="#1c1c9a"/>
<polygon points="224.20,409.89 226.31,412.00 224.20,414.11 222.09,412.00" fill="#1c1c9a"/>
<polygon points="229.40,408.49 231.51,410.60 229.40,412.71 227.29,410.60" fill="#1c1c9a"/>
<polygon points="211.10,413.39 213.21,415.50 211.10,417.61 208.99,415.50" fill="#1c1c9a"/>
<polygon points="216.30,415.19 218.41,417.30 216.30,419.41 214.19,417.30" fill="#1c1c9a"/>
<polygon points="221.60,417.29 223.71,419.40 221.60,421.51 219.49,419.40" fill="#1c1c9a"/>
<polygon points="226.80,416.59 228.91,418.70 226.80,420.81 224.69,418.70" fill="#1c1c9a"/>
<polygon points="232.00,413.79 234.11,415.90 232.00,418.01 229.89,415.90" fill="#1c1c9a"/>
<line x1="56.50" y1="369.91" x2="82.50" y2="369.91" stroke="#141414" stroke-width="1.2" />
<line x1="69.50" y1="364.50" x2="69.50" y2="375.33" stroke="#141414" stroke-width="1.1" />
<line x1="63.00" y1="364.50" x2="76.00" y2="364.50" stroke="#141414" stroke-width="1.1" />
<line x1="63.00" y1="375.33" x2="76.00" y2="375.33" stroke="#141414" stroke-width="1.1" />
<line x1="94.80" y1="393.29" x2="119.80" y2="393.29" stroke="#8c6a30" stroke-width="1.2" />
<line x1="107.30" y1="390.33" x2="107.30" y2="396.25" stroke="#8c6a30" stroke-width="1.1" />
<line x1="100.80" y1="390.33" x2="113.80" y2="390.33" stroke="#8c6a30" stroke-width="1.1" />
<line x1="100.80" y1="396.25" x2="113.80" y2="396.25" stroke="#8c6a30" stroke-width="1.1" />
<line x1="134.60" y1="403.61" x2="156.60" y2="403.61" stroke="#2ab52a" stroke-width="1.2" />
<line x1="145.60" y1="402.60" x2="145.60" y2="404.63" stroke="#2ab52a" stroke-width="1.1" />
<line x1="139.10" y1="402.60" x2="152.10" y2="402.60" stroke="#2ab52a" stroke-width="1.1" />
<line x1="139.10" y1="404.63" x2="152.10" y2="404.63" stroke="#2ab52a" stroke-width="1.1" />
<line x1="171.60" y1="407.00" x2="195.60" y2="407.00" stroke="#f4a64a" stroke-width="1.2" />
<line x1="183.60" y1="405.31" x2="183.60" y2="408.69" stroke="#f4a64a" stroke-width="1.1" />
<line x1="177.10" y1="405.31" x2="190.10" y2="405.31" stroke="#f4a64a" stroke-width="1.1" />
<line x1="177.10" y1="408.69" x2="190.10" y2="408.69" stroke="#f4a64a" stroke-width="1.1" />
<line x1="209.60" y1="408.88" x2="233.60" y2="408.88" stroke="#5a5ae0" stroke-width="1.2" />
<line x1="221.60" y1="407.36" x2="221.60" y2="410.41" stroke="#5a5ae0" stroke-width="1.1" />
<line x1="215.10" y1="407.36" x2="228.10" y2="407.36" stroke="#5a5ae0" stroke-width="1.1" />
<line x1="215.10" y1="410.41" x2="228.10" y2="410.41" stroke="#5a5ae0" stroke-width="1.1" />
<text x="70.40" y="277.81" font-size="8.8" text-anchor="middle" font-weight="bold" fill="#111" >715.12</text>
<text x="109.00" y="363.21" font-size="8.8" text-anchor="middle" font-weight="bold" fill="#111" >438.66</text>
<text x="144.80" y="374.21" font-size="8.8" text-anchor="middle" font-weight="bold" fill="#111" >316.61</text>
<text x="184.00" y="379.41" font-size="8.8" text-anchor="middle" font-weight="bold" fill="#111" >276.61</text>
<text x="222.20" y="385.01" font-size="8.8" text-anchor="middle" font-weight="bold" fill="#111" >254.32</text>
<polygon points="103.25,342.95 103.84,344.19 105.20,344.37 104.20,345.31 104.45,346.66 103.25,346.00 102.05,346.66 102.30,345.31 101.30,344.37 102.66,344.19" fill="#111" stroke="#111" stroke-width="0.35" stroke-linejoin="round"/>
<polygon points="107.70,342.95 108.29,344.19 109.65,344.37 108.65,345.31 108.90,346.66 107.70,346.00 106.50,346.66 106.75,345.31 105.75,344.37 107.11,344.19" fill="#111" stroke="#111" stroke-width="0.35" stroke-linejoin="round"/>
<polygon points="112.15,342.95 112.74,344.19 114.10,344.37 113.10,345.31 113.35,346.66 112.15,346.00 110.95,346.66 111.20,345.31 110.20,344.37 111.56,344.19" fill="#111" stroke="#111" stroke-width="0.35" stroke-linejoin="round"/>
<polygon points="137.92,356.05 138.51,357.29 139.87,357.47 138.88,358.41 139.13,359.76 137.92,359.10 136.72,359.76 136.97,358.41 135.98,357.47 137.34,357.29" fill="#111" stroke="#111" stroke-width="0.35" stroke-linejoin="round"/>
<polygon points="142.38,356.05 142.96,357.29 144.32,357.47 143.33,358.41 143.58,359.76 142.38,359.10 141.17,359.76 141.42,358.41 140.43,357.47 141.79,357.29" fill="#111" stroke="#111" stroke-width="0.35" stroke-linejoin="round"/>
<polygon points="146.82,356.05 147.41,357.29 148.77,357.47 147.78,358.41 148.03,359.76 146.82,359.10 145.62,359.76 145.87,358.41 144.88,357.47 146.24,357.29" fill="#111" stroke="#111" stroke-width="0.35" stroke-linejoin="round"/>
<polygon points="151.28,356.05 151.86,357.29 153.22,357.47 152.23,358.41 152.48,359.76 151.28,359.10 150.07,359.76 150.32,358.41 149.33,357.47 150.69,357.29" fill="#111" stroke="#111" stroke-width="0.35" stroke-linejoin="round"/>
<polygon points="176.42,361.35 177.01,362.59 178.37,362.77 177.38,363.71 177.63,365.06 176.42,364.40 175.22,365.06 175.47,363.71 174.48,362.77 175.84,362.59" fill="#111" stroke="#111" stroke-width="0.35" stroke-linejoin="round"/>
<polygon points="180.88,361.35 181.46,362.59 182.82,362.77 181.83,363.71 182.08,365.06 180.88,364.40 179.67,365.06 179.92,363.71 178.93,362.77 180.29,362.59" fill="#111" stroke="#111" stroke-width="0.35" stroke-linejoin="round"/>
<polygon points="185.32,361.35 185.91,362.59 187.27,362.77 186.28,363.71 186.53,365.06 185.32,364.40 184.12,365.06 184.37,363.71 183.38,362.77 184.74,362.59" fill="#111" stroke="#111" stroke-width="0.35" stroke-linejoin="round"/>
<polygon points="189.78,361.35 190.36,362.59 191.72,362.77 190.73,363.71 190.98,365.06 189.78,364.40 188.57,365.06 188.82,363.71 187.83,362.77 189.19,362.59" fill="#111" stroke="#111" stroke-width="0.35" stroke-linejoin="round"/>
<polygon points="214.42,366.85 215.01,368.09 216.37,368.27 215.38,369.21 215.63,370.56 214.42,369.90 213.22,370.56 213.47,369.21 212.48,368.27 213.84,368.09" fill="#111" stroke="#111" stroke-width="0.35" stroke-linejoin="round"/>
<polygon points="218.88,366.85 219.46,368.09 220.82,368.27 219.83,369.21 220.08,370.56 218.88,369.90 217.67,370.56 217.92,369.21 216.93,368.27 218.29,368.09" fill="#111" stroke="#111" stroke-width="0.35" stroke-linejoin="round"/>
<polygon points="223.32,366.85 223.91,368.09 225.27,368.27 224.28,369.21 224.53,370.56 223.32,369.90 222.12,370.56 222.37,369.21 221.38,368.27 222.74,368.09" fill="#111" stroke="#111" stroke-width="0.35" stroke-linejoin="round"/>
<polygon points="227.78,366.85 228.36,368.09 229.72,368.27 228.73,369.21 228.98,370.56 227.78,369.90 226.57,370.56 226.82,369.21 225.83,368.27 227.19,368.09" fill="#111" stroke="#111" stroke-width="0.35" stroke-linejoin="round"/>
<text x="404.90" y="242.79" font-size="10.95" text-anchor="middle" font-weight="bold" fill="#111" >Final tumor weight</text>
<line x1="301.00" y1="258.61" x2="301.00" y2="431.80" stroke="#7a7a7a" stroke-width="1.6" />
<line x1="300.50" y1="431.20" x2="509.30" y2="431.20" stroke="#333" stroke-width="1.3" />
<line x1="298.20" y1="431.20" x2="301.00" y2="431.20" stroke="#7a7a7a" stroke-width="1.1" />
<text transform="translate(297.20,433.80) scale(1.16,1)" font-size="8.5" text-anchor="end" font-weight="bold" fill="#111">0.0</text>
<line x1="298.20" y1="406.63" x2="301.00" y2="406.63" stroke="#7a7a7a" stroke-width="1.1" />
<text transform="translate(297.20,409.23) scale(1.16,1)" font-size="8.5" text-anchor="end" font-weight="bold" fill="#111">0.5</text>
<line x1="298.20" y1="382.06" x2="301.00" y2="382.06" stroke="#7a7a7a" stroke-width="1.1" />
<text transform="translate(297.20,384.66) scale(1.16,1)" font-size="8.5" text-anchor="end" font-weight="bold" fill="#111">1.0</text>
<line x1="298.20" y1="357.49" x2="301.00" y2="357.49" stroke="#7a7a7a" stroke-width="1.1" />
<text transform="translate(297.20,360.09) scale(1.16,1)" font-size="8.5" text-anchor="end" font-weight="bold" fill="#111">1.5</text>
<line x1="298.20" y1="332.92" x2="301.00" y2="332.92" stroke="#7a7a7a" stroke-width="1.1" />
<text transform="translate(297.20,335.52) scale(1.16,1)" font-size="8.5" text-anchor="end" font-weight="bold" fill="#111">2.0</text>
<line x1="298.20" y1="308.35" x2="301.00" y2="308.35" stroke="#7a7a7a" stroke-width="1.1" />
<text transform="translate(297.20,310.95) scale(1.16,1)" font-size="8.5" text-anchor="end" font-weight="bold" fill="#111">2.5</text>
<line x1="298.20" y1="283.78" x2="301.00" y2="283.78" stroke="#7a7a7a" stroke-width="1.1" />
<text transform="translate(297.20,286.38) scale(1.16,1)" font-size="8.5" text-anchor="end" font-weight="bold" fill="#111">3.0</text>
<line x1="298.20" y1="259.21" x2="301.00" y2="259.21" stroke="#7a7a7a" stroke-width="1.1" />
<text transform="translate(297.20,261.81) scale(1.16,1)" font-size="8.5" text-anchor="end" font-weight="bold" fill="#111">3.5</text>
<text transform="translate(275.2,342.8) rotate(-90)" x="0" y="0" font-size="9.8" text-anchor="middle" font-weight="bold" fill="#111">Tumor weight (g)</text>
<rect x="313.40" y="370.76" width="26.8" height="60.44" fill="none" stroke="#141414" stroke-width="1.6"/>
<line x1="326.80" y1="431.20" x2="326.80" y2="434.00" stroke="#1a1a1a" stroke-width="1.1" />
<rect x="352.60" y="386.73" width="26.8" height="44.47" fill="none" stroke="#8c6a30" stroke-width="1.6"/>
<line x1="366.00" y1="431.20" x2="366.00" y2="434.00" stroke="#1a1a1a" stroke-width="1.1" />
<rect x="391.50" y="404.12" width="26.8" height="27.08" fill="none" stroke="#2ab52a" stroke-width="1.6"/>
<line x1="404.90" y1="431.20" x2="404.90" y2="434.00" stroke="#1a1a1a" stroke-width="1.1" />
<rect x="430.50" y="408.15" width="26.8" height="23.05" fill="none" stroke="#f4a64a" stroke-width="1.6"/>
<line x1="443.90" y1="431.20" x2="443.90" y2="434.00" stroke="#1a1a1a" stroke-width="1.1" />
<rect x="469.60" y="411.89" width="26.8" height="19.31" fill="none" stroke="#1c1c9a" stroke-width="1.6"/>
<line x1="483.00" y1="431.20" x2="483.00" y2="434.00" stroke="#1a1a1a" stroke-width="1.1" />
<text x="319.80" y="442.41" font-size="8.25" text-anchor="middle" font-weight="bold" fill="#111" >Vehicle</text>
<text x="319.80" y="453.11" font-size="8.25" text-anchor="middle" font-weight="bold" fill="#111" >control</text>
<text x="358.20" y="442.41" font-size="8.25" text-anchor="middle" font-weight="bold" fill="#111" >5 mg/kg</text>
<text x="358.00" y="453.11" font-size="8.25" text-anchor="middle" font-weight="bold" fill="#111" >VERU-111</text>
<text x="400.10" y="442.41" font-size="8.25" text-anchor="middle" font-weight="bold" fill="#111" >10 mg/kg</text>
<text x="399.00" y="453.11" font-size="8.25" text-anchor="middle" font-weight="bold" fill="#111" >VERU-111</text>
<text x="442.50" y="442.41" font-size="8.25" text-anchor="middle" font-weight="bold" fill="#111" >12.5 mg/kg</text>
<text x="442.30" y="453.11" font-size="8.25" text-anchor="middle" font-weight="bold" fill="#111" >VERU-111</text>
<text x="487.40" y="442.41" font-size="8.25" text-anchor="middle" font-weight="bold" fill="#111" >12.5 mg/kg</text>
<text x="488.40" y="453.11" font-size="8.25" text-anchor="middle" font-weight="bold" fill="#111" >paclitaxel</text>
<circle cx="327.00" cy="287.50" r="1.95" fill="#141414"/>
<circle cx="326.80" cy="318.30" r="1.95" fill="#141414"/>
<circle cx="326.80" cy="336.10" r="1.95" fill="#141414"/>
<circle cx="324.40" cy="355.60" r="1.95" fill="#141414"/>
<circle cx="319.00" cy="359.00" r="1.95" fill="#141414"/>
<circle cx="329.30" cy="359.00" r="1.95" fill="#141414"/>
<circle cx="332.90" cy="357.30" r="1.95" fill="#141414"/>
<circle cx="335.40" cy="358.50" r="1.95" fill="#141414"/>
<circle cx="324.40" cy="363.00" r="1.95" fill="#141414"/>
<circle cx="329.30" cy="370.70" r="1.95" fill="#141414"/>
<circle cx="324.40" cy="374.40" r="1.95" fill="#141414"/>
<circle cx="321.50" cy="378.50" r="1.95" fill="#141414"/>
<circle cx="326.80" cy="380.00" r="1.95" fill="#141414"/>
<circle cx="331.70" cy="378.00" r="1.95" fill="#141414"/>
<circle cx="316.60" cy="381.00" r="1.95" fill="#141414"/>
<circle cx="336.60" cy="381.70" r="1.95" fill="#141414"/>
<circle cx="324.40" cy="385.40" r="1.95" fill="#141414"/>
<circle cx="329.30" cy="385.40" r="1.95" fill="#141414"/>
<circle cx="321.50" cy="384.10" r="1.95" fill="#141414"/>
<circle cx="334.10" cy="384.10" r="1.95" fill="#141414"/>
<circle cx="319.00" cy="389.80" r="1.95" fill="#141414"/>
<circle cx="324.40" cy="391.50" r="1.95" fill="#141414"/>
<circle cx="331.70" cy="389.80" r="1.95" fill="#141414"/>
<circle cx="337.80" cy="390.70" r="1.95" fill="#141414"/>
<circle cx="329.30" cy="397.00" r="1.95" fill="#141414"/>
<circle cx="324.40" cy="399.50" r="1.95" fill="#141414"/>
<rect x="364.10" y="361.90" width="3.40" height="3.40" fill="#8c6a30"/>
<rect x="356.10" y="372.40" width="3.40" height="3.40" fill="#8c6a30"/>
<rect x="369.30" y="371.80" width="3.40" height="3.40" fill="#8c6a30"/>
<rect x="358.80" y="377.40" width="3.40" height="3.40" fill="#8c6a30"/>
<rect x="364.10" y="376.00" width="3.40" height="3.40" fill="#8c6a30"/>
<rect x="369.30" y="378.50" width="3.40" height="3.40" fill="#8c6a30"/>
<rect x="361.30" y="380.80" width="3.40" height="3.40" fill="#8c6a30"/>
<rect x="364.10" y="381.80" width="3.40" height="3.40" fill="#8c6a30"/>
<rect x="366.60" y="386.40" width="3.40" height="3.40" fill="#8c6a30"/>
<rect x="353.40" y="389.60" width="3.40" height="3.40" fill="#8c6a30"/>
<rect x="358.80" y="391.30" width="3.40" height="3.40" fill="#8c6a30"/>
<rect x="364.10" y="392.70" width="3.40" height="3.40" fill="#8c6a30"/>
<rect x="369.30" y="392.70" width="3.40" height="3.40" fill="#8c6a30"/>
<rect x="375.00" y="390.20" width="3.40" height="3.40" fill="#8c6a30"/>
<rect x="364.10" y="401.10" width="3.40" height="3.40" fill="#8c6a30"/>
<rect x="364.10" y="413.70" width="3.40" height="3.40" fill="#8c6a30"/>
<polygon points="405.20,386.05 403.04,389.64 407.36,389.64" fill="#2ab52a"/>
<polygon points="394.30,399.25 392.14,402.84 396.46,402.84" fill="#2ab52a"/>
<polygon points="402.00,398.65 399.84,402.24 404.16,402.24" fill="#2ab52a"/>
<polygon points="407.30,397.15 405.14,400.74 409.46,400.74" fill="#2ab52a"/>
<polygon points="416.00,400.15 413.84,403.74 418.16,403.74" fill="#2ab52a"/>
<polygon points="397.80,402.85 395.64,406.44 399.96,406.44" fill="#2ab52a"/>
<polygon points="401.00,403.45 398.84,407.04 403.16,407.04" fill="#2ab52a"/>
<polygon points="405.20,402.85 403.04,406.44 407.36,406.44" fill="#2ab52a"/>
<polygon points="409.40,403.95 407.24,407.54 411.56,407.54" fill="#2ab52a"/>
<polygon points="412.50,402.85 410.34,406.44 414.66,406.44" fill="#2ab52a"/>
<polygon points="399.90,409.15 397.74,412.74 402.06,412.74" fill="#2ab52a"/>
<polygon points="404.10,410.15 401.94,413.74 406.26,413.74" fill="#2ab52a"/>
<polygon points="407.30,408.55 405.14,412.14 409.46,412.14" fill="#2ab52a"/>
<polygon points="403.00,405.95 400.84,409.54 405.16,409.54" fill="#2ab52a"/>
<polygon points="410.40,405.95 408.24,409.54 412.56,409.54" fill="#2ab52a"/>
<polygon points="444.10,392.95 441.94,389.36 446.26,389.36" fill="#f4a64a"/>
<polygon points="433.60,405.95 431.44,402.36 435.76,402.36" fill="#f4a64a"/>
<polygon points="436.80,406.55 434.64,402.96 438.96,402.96" fill="#f4a64a"/>
<polygon points="441.00,406.55 438.84,402.96 443.16,402.96" fill="#f4a64a"/>
<polygon points="451.40,405.45 449.24,401.86 453.56,401.86" fill="#f4a64a"/>
<polygon points="453.50,406.55 451.34,402.96 455.66,402.96" fill="#f4a64a"/>
<polygon points="438.40,409.05 436.24,405.46 440.56,405.46" fill="#f4a64a"/>
<polygon points="444.10,408.45 441.94,404.86 446.26,404.86" fill="#f4a64a"/>
<polygon points="447.30,409.65 445.14,406.06 449.46,406.06" fill="#f4a64a"/>
<polygon points="435.70,420.55 433.54,416.96 437.86,416.96" fill="#f4a64a"/>
<polygon points="441.00,421.05 438.84,417.46 443.16,417.46" fill="#f4a64a"/>
<polygon points="446.20,420.55 444.04,416.96 448.36,416.96" fill="#f4a64a"/>
<polygon points="451.40,419.55 449.24,415.96 453.56,415.96" fill="#f4a64a"/>
<polygon points="441.00,411.15 438.84,407.56 443.16,407.56" fill="#f4a64a"/>
<polygon points="445.20,411.75 443.04,408.16 447.36,408.16" fill="#f4a64a"/>
<polygon points="480.50,399.69 482.61,401.80 480.50,403.91 478.39,401.80" fill="#1c1c9a"/>
<polygon points="485.60,399.69 487.71,401.80 485.60,403.91 483.49,401.80" fill="#1c1c9a"/>
<polygon points="472.60,403.89 474.71,406.00 472.60,408.11 470.49,406.00" fill="#1c1c9a"/>
<polygon points="477.80,404.89 479.91,407.00 477.80,409.11 475.69,407.00" fill="#1c1c9a"/>
<polygon points="493.50,403.89 495.61,406.00 493.50,408.11 491.39,406.00" fill="#1c1c9a"/>
<polygon points="481.00,409.49 483.11,411.60 481.00,413.71 478.89,411.60" fill="#1c1c9a"/>
<polygon points="485.20,409.49 487.31,411.60 485.20,413.71 483.09,411.60" fill="#1c1c9a"/>
<polygon points="488.30,410.09 490.41,412.20 488.30,414.31 486.19,412.20" fill="#1c1c9a"/>
<polygon points="476.80,413.29 478.91,415.40 476.80,417.51 474.69,415.40" fill="#1c1c9a"/>
<polygon points="493.50,412.69 495.61,414.80 493.50,416.91 491.39,414.80" fill="#1c1c9a"/>
<polygon points="477.80,415.99 479.91,418.10 477.80,420.21 475.69,418.10" fill="#1c1c9a"/>
<polygon points="482.00,415.39 484.11,417.50 482.00,419.61 479.89,417.50" fill="#1c1c9a"/>
<polygon points="486.20,415.39 488.31,417.50 486.20,419.61 484.09,417.50" fill="#1c1c9a"/>
<polygon points="489.40,414.29 491.51,416.40 489.40,418.51 487.29,416.40" fill="#1c1c9a"/>
<polygon points="483.10,420.99 485.21,423.10 483.10,425.21 480.99,423.10" fill="#1c1c9a"/>
<polygon points="488.30,417.49 490.41,419.60 488.30,421.71 486.19,419.60" fill="#1c1c9a"/>
<line x1="326.80" y1="366.34" x2="326.80" y2="370.76" stroke="#141414" stroke-width="1.1" />
<line x1="320.30" y1="366.34" x2="333.30" y2="366.34" stroke="#141414" stroke-width="1.1" />
<line x1="366.00" y1="383.78" x2="366.00" y2="386.73" stroke="#8c6a30" stroke-width="1.1" />
<line x1="359.50" y1="383.78" x2="372.50" y2="383.78" stroke="#8c6a30" stroke-width="1.1" />
<line x1="404.90" y1="402.65" x2="404.90" y2="404.12" stroke="#2ab52a" stroke-width="1.1" />
<line x1="398.40" y1="402.65" x2="411.40" y2="402.65" stroke="#2ab52a" stroke-width="1.1" />
<line x1="443.90" y1="406.19" x2="443.90" y2="408.15" stroke="#f4a64a" stroke-width="1.1" />
<line x1="437.40" y1="406.19" x2="450.40" y2="406.19" stroke="#f4a64a" stroke-width="1.1" />
<line x1="483.00" y1="410.41" x2="483.00" y2="411.89" stroke="#1c1c9a" stroke-width="1.1" />
<line x1="476.50" y1="410.41" x2="489.50" y2="410.41" stroke="#1c1c9a" stroke-width="1.1" />
<text x="327.80" y="282.01" font-size="8.8" text-anchor="middle" font-weight="bold" fill="#111" >1.23</text>
<text x="367.20" y="354.21" font-size="8.8" text-anchor="middle" font-weight="bold" fill="#111" >0.90</text>
<text x="405.30" y="376.01" font-size="8.8" text-anchor="middle" font-weight="bold" fill="#111" >0.54</text>
<text x="445.00" y="382.31" font-size="8.8" text-anchor="middle" font-weight="bold" fill="#111" >0.46</text>
<text x="483.50" y="393.41" font-size="8.8" text-anchor="middle" font-weight="bold" fill="#111" >0.38</text>
<polygon points="364.27,338.45 364.86,339.69 366.22,339.87 365.23,340.81 365.48,342.16 364.27,341.50 363.07,342.16 363.32,340.81 362.33,339.87 363.69,339.69" fill="#111" stroke="#111" stroke-width="0.35" stroke-linejoin="round"/>
<polygon points="368.73,338.45 369.31,339.69 370.67,339.87 369.68,340.81 369.93,342.16 368.73,341.50 367.52,342.16 367.77,340.81 366.78,339.87 368.14,339.69" fill="#111" stroke="#111" stroke-width="0.35" stroke-linejoin="round"/>
<polygon points="398.32,357.95 398.91,359.19 400.27,359.37 399.28,360.31 399.53,361.66 398.32,361.00 397.12,361.66 397.37,360.31 396.38,359.37 397.74,359.19" fill="#111" stroke="#111" stroke-width="0.35" stroke-linejoin="round"/>
<polygon points="402.77,357.95 403.36,359.19 404.72,359.37 403.73,360.31 403.98,361.66 402.77,361.00 401.57,361.66 401.82,360.31 400.83,359.37 402.19,359.19" fill="#111" stroke="#111" stroke-width="0.35" stroke-linejoin="round"/>
<polygon points="407.23,357.95 407.81,359.19 409.17,359.37 408.18,360.31 408.43,361.66 407.23,361.00 406.02,361.66 406.27,360.31 405.28,359.37 406.64,359.19" fill="#111" stroke="#111" stroke-width="0.35" stroke-linejoin="round"/>
<polygon points="411.68,357.95 412.26,359.19 413.62,359.37 412.63,360.31 412.88,361.66 411.68,361.00 410.47,361.66 410.72,360.31 409.73,359.37 411.09,359.19" fill="#111" stroke="#111" stroke-width="0.35" stroke-linejoin="round"/>
<polygon points="437.12,363.85 437.71,365.09 439.07,365.27 438.08,366.21 438.33,367.56 437.12,366.90 435.92,367.56 436.17,366.21 435.18,365.27 436.54,365.09" fill="#111" stroke="#111" stroke-width="0.35" stroke-linejoin="round"/>
<polygon points="441.57,363.85 442.16,365.09 443.52,365.27 442.53,366.21 442.78,367.56 441.57,366.90 440.37,367.56 440.62,366.21 439.63,365.27 440.99,365.09" fill="#111" stroke="#111" stroke-width="0.35" stroke-linejoin="round"/>
<polygon points="446.03,363.85 446.61,365.09 447.97,365.27 446.98,366.21 447.23,367.56 446.03,366.90 444.82,367.56 445.07,366.21 444.08,365.27 445.44,365.09" fill="#111" stroke="#111" stroke-width="0.35" stroke-linejoin="round"/>
<polygon points="450.48,363.85 451.06,365.09 452.42,365.27 451.43,366.21 451.68,367.56 450.48,366.90 449.27,367.56 449.52,366.21 448.53,365.27 449.89,365.09" fill="#111" stroke="#111" stroke-width="0.35" stroke-linejoin="round"/>
<polygon points="477.43,375.85 478.01,377.09 479.37,377.27 478.38,378.21 478.63,379.56 477.43,378.90 476.22,379.56 476.47,378.21 475.48,377.27 476.84,377.09" fill="#111" stroke="#111" stroke-width="0.35" stroke-linejoin="round"/>
<polygon points="481.88,375.85 482.46,377.09 483.82,377.27 482.83,378.21 483.08,379.56 481.88,378.90 480.67,379.56 480.92,378.21 479.93,377.27 481.29,377.09" fill="#111" stroke="#111" stroke-width="0.35" stroke-linejoin="round"/>
<polygon points="486.33,375.85 486.91,377.09 488.27,377.27 487.28,378.21 487.53,379.56 486.33,378.90 485.12,379.56 485.37,378.21 484.38,377.27 485.74,377.09" fill="#111" stroke="#111" stroke-width="0.35" stroke-linejoin="round"/>
<polygon points="490.78,375.85 491.36,377.09 492.72,377.27 491.73,378.21 491.98,379.56 490.78,378.90 489.57,379.56 489.82,378.21 488.83,377.27 490.19,377.09" fill="#111" stroke="#111" stroke-width="0.35" stroke-linejoin="round"/>
<text transform="translate(64.20,478.14) scale(1.045,1)" font-size="9.7" text-anchor="middle" font-weight="bold" fill="#111">Vehicle</text>
<text transform="translate(157.50,474.54) scale(1.045,1)" font-size="9.7" text-anchor="middle" font-weight="bold" fill="#111">5 mg/kg</text>
<text transform="translate(157.50,485.64) scale(1.045,1)" font-size="9.7" text-anchor="middle" font-weight="bold" fill="#111">VERU-111</text>
<text transform="translate(261.30,474.04) scale(1.045,1)" font-size="9.7" text-anchor="middle" font-weight="bold" fill="#111">10 mg/kg</text>
<text transform="translate(261.30,485.14) scale(1.045,1)" font-size="9.7" text-anchor="middle" font-weight="bold" fill="#111">VERU-111</text>
<text transform="translate(354.80,474.54) scale(1.045,1)" font-size="9.7" text-anchor="middle" font-weight="bold" fill="#111">12.5 mg/kg</text>
<text transform="translate(354.80,485.64) scale(1.045,1)" font-size="9.7" text-anchor="middle" font-weight="bold" fill="#111">VERU-111</text>
<text transform="translate(446.20,474.04) scale(1.045,1)" font-size="9.7" text-anchor="middle" font-weight="bold" fill="#111">12.5 mg/kg</text>
<text transform="translate(446.20,485.14) scale(1.045,1)" font-size="9.7" text-anchor="middle" font-weight="bold" fill="#111">paclitaxel</text>
<rect x="22.60" y="493.70" width="78.40" height="79.30" fill="url(#bg0)"/>
<g clip-path="url(#pc0)"><g filter="url(#soft)">
<polygon points="40.00,493.70 83.00,493.70 99.00,509.00 99.00,557.00 84.00,573.00 40.00,573.00 23.80,557.00 23.80,509.00" fill="url(#pl0)" stroke="url(#pl0)" stroke-width="3" stroke-linejoin="round"/>
</g></g>
<rect x="114.70" y="494.00" width="87.80" height="79.00" fill="url(#bg1)"/>
<g clip-path="url(#pc1)"><g filter="url(#soft)">
<polygon points="135.80,494.00 181.50,494.00 201.50,527.00 190.50,573.00 129.40,573.00 114.90,528.40" fill="url(#pl1)" stroke="url(#pl1)" stroke-width="3" stroke-linejoin="round"/>
</g></g>
<rect x="216.70" y="494.00" width="87.80" height="79.00" fill="url(#bg2)"/>
<g clip-path="url(#pc2)"><g filter="url(#soft)">
<polygon points="233.20,494.00 284.40,494.00 304.00,533.00 290.00,573.00 229.00,573.00 216.70,533.90" fill="url(#pl2)" stroke="url(#pl2)" stroke-width="3" stroke-linejoin="round"/>
</g></g>
<rect x="319.00" y="495.10" width="77.40" height="77.90" fill="url(#bg3)"/>
<g clip-path="url(#pc3)"><g filter="url(#soft)">
<circle cx="357.7" cy="534.2" r="38.8" fill="url(#pl3)"/>
</g></g>
<rect x="412.70" y="495.10" width="78.80" height="77.90" fill="url(#bg4)"/>
<g clip-path="url(#pc4)"><g filter="url(#soft)">
<rect x="412.7" y="495.1" width="78.80" height="80.90" rx="22" fill="url(#pl4)"/>
</g></g>
<g filter="url(#soft2)"><path d="M39.60,516.50 C39.98,515.38 41.43,514.18 42.50,513.80 C43.57,513.42 45.17,513.58 46.00,514.20 C46.83,514.82 46.50,516.60 47.50,517.50 C48.50,518.40 50.67,519.02 52.00,519.60 C53.33,520.18 54.77,519.68 55.50,521.00 C56.23,522.32 56.25,525.50 56.40,527.50 C56.55,529.50 55.92,531.13 56.40,533.00 C56.88,534.87 58.93,536.87 59.30,538.70 C59.67,540.53 59.65,542.62 58.60,544.00 C57.55,545.38 54.82,546.60 53.00,547.00 C51.18,547.40 49.48,547.15 47.70,546.40 C45.92,545.65 43.88,544.17 42.30,542.50 C40.72,540.83 39.02,538.57 38.20,536.40 C37.38,534.23 37.38,531.68 37.40,529.50 C37.42,527.32 37.83,524.80 38.30,523.30 C38.77,521.80 39.98,521.63 40.20,520.50 C40.42,519.37 39.22,517.62 39.60,516.50 Z" fill="#c07470" stroke="#c07470" stroke-width="0.8" stroke-linejoin="round"/><path d="M39.60,516.50 C39.98,515.38 41.43,514.18 42.50,513.80 C43.57,513.42 45.17,513.58 46.00,514.20 C46.83,514.82 46.50,516.60 47.50,517.50 C48.50,518.40 50.67,519.02 52.00,519.60 C53.33,520.18 54.77,519.68 55.50,521.00 C56.23,522.32 56.25,525.50 56.40,527.50 C56.55,529.50 55.92,531.13 56.40,533.00 C56.88,534.87 58.93,536.87 59.30,538.70 C59.67,540.53 59.65,542.62 58.60,544.00 C57.55,545.38 54.82,546.60 53.00,547.00 C51.18,547.40 49.48,547.15 47.70,546.40 C45.92,545.65 43.88,544.17 42.30,542.50 C40.72,540.83 39.02,538.57 38.20,536.40 C37.38,534.23 37.38,531.68 37.40,529.50 C37.42,527.32 37.83,524.80 38.30,523.30 C38.77,521.80 39.98,521.63 40.20,520.50 C40.42,519.37 39.22,517.62 39.60,516.50 Z" fill="url(#tg0)"/><path d="M39.60,516.50 C39.98,515.38 41.43,514.18 42.50,513.80 C43.57,513.42 45.17,513.58 46.00,514.20 C46.83,514.82 46.50,516.60 47.50,517.50 C48.50,518.40 50.67,519.02 52.00,519.60 C53.33,520.18 54.77,519.68 55.50,521.00 C56.23,522.32 56.25,525.50 56.40,527.50 C56.55,529.50 55.92,531.13 56.40,533.00 C56.88,534.87 58.93,536.87 59.30,538.70 C59.67,540.53 59.65,542.62 58.60,544.00 C57.55,545.38 54.82,546.60 53.00,547.00 C51.18,547.40 49.48,547.15 47.70,546.40 C45.92,545.65 43.88,544.17 42.30,542.50 C40.72,540.83 39.02,538.57 38.20,536.40 C37.38,534.23 37.38,531.68 37.40,529.50 C37.42,527.32 37.83,524.80 38.30,523.30 C38.77,521.80 39.98,521.63 40.20,520.50 C40.42,519.37 39.22,517.62 39.60,516.50 Z" fill="#000" filter="url(#md0)"/><path d="M39.60,516.50 C39.98,515.38 41.43,514.18 42.50,513.80 C43.57,513.42 45.17,513.58 46.00,514.20 C46.83,514.82 46.50,516.60 47.50,517.50 C48.50,518.40 50.67,519.02 52.00,519.60 C53.33,520.18 54.77,519.68 55.50,521.00 C56.23,522.32 56.25,525.50 56.40,527.50 C56.55,529.50 55.92,531.13 56.40,533.00 C56.88,534.87 58.93,536.87 59.30,538.70 C59.67,540.53 59.65,542.62 58.60,544.00 C57.55,545.38 54.82,546.60 53.00,547.00 C51.18,547.40 49.48,547.15 47.70,546.40 C45.92,545.65 43.88,544.17 42.30,542.50 C40.72,540.83 39.02,538.57 38.20,536.40 C37.38,534.23 37.38,531.68 37.40,529.50 C37.42,527.32 37.83,524.80 38.30,523.30 C38.77,521.80 39.98,521.63 40.20,520.50 C40.42,519.37 39.22,517.62 39.60,516.50 Z" fill="#000" filter="url(#ml0)"/></g>
<g filter="url(#soft2)"><path d="M78.20,525.80 C80.43,525.77 84.30,526.12 86.20,527.40 C88.10,528.68 88.98,531.35 89.60,533.50 C90.22,535.65 90.40,538.17 89.90,540.30 C89.40,542.43 88.25,544.90 86.60,546.30 C84.95,547.70 82.30,548.70 80.00,548.70 C77.70,548.70 74.60,547.80 72.80,546.30 C71.00,544.80 69.73,542.03 69.20,539.70 C68.67,537.37 69.00,534.32 69.60,532.30 C70.20,530.28 71.37,528.68 72.80,527.60 C74.23,526.52 75.97,525.83 78.20,525.80 Z" fill="#c06a68" stroke="#c06a68" stroke-width="0.8" stroke-linejoin="round"/><path d="M78.20,525.80 C80.43,525.77 84.30,526.12 86.20,527.40 C88.10,528.68 88.98,531.35 89.60,533.50 C90.22,535.65 90.40,538.17 89.90,540.30 C89.40,542.43 88.25,544.90 86.60,546.30 C84.95,547.70 82.30,548.70 80.00,548.70 C77.70,548.70 74.60,547.80 72.80,546.30 C71.00,544.80 69.73,542.03 69.20,539.70 C68.67,537.37 69.00,534.32 69.60,532.30 C70.20,530.28 71.37,528.68 72.80,527.60 C74.23,526.52 75.97,525.83 78.20,525.80 Z" fill="url(#tg1)"/><path d="M78.20,525.80 C80.43,525.77 84.30,526.12 86.20,527.40 C88.10,528.68 88.98,531.35 89.60,533.50 C90.22,535.65 90.40,538.17 89.90,540.30 C89.40,542.43 88.25,544.90 86.60,546.30 C84.95,547.70 82.30,548.70 80.00,548.70 C77.70,548.70 74.60,547.80 72.80,546.30 C71.00,544.80 69.73,542.03 69.20,539.70 C68.67,537.37 69.00,534.32 69.60,532.30 C70.20,530.28 71.37,528.68 72.80,527.60 C74.23,526.52 75.97,525.83 78.20,525.80 Z" fill="#000" filter="url(#md1)"/><path d="M78.20,525.80 C80.43,525.77 84.30,526.12 86.20,527.40 C88.10,528.68 88.98,531.35 89.60,533.50 C90.22,535.65 90.40,538.17 89.90,540.30 C89.40,542.43 88.25,544.90 86.60,546.30 C84.95,547.70 82.30,548.70 80.00,548.70 C77.70,548.70 74.60,547.80 72.80,546.30 C71.00,544.80 69.73,542.03 69.20,539.70 C68.67,537.37 69.00,534.32 69.60,532.30 C70.20,530.28 71.37,528.68 72.80,527.60 C74.23,526.52 75.97,525.83 78.20,525.80 Z" fill="#000" filter="url(#ml1)"/></g>
<g filter="url(#soft2)"><path d="M133.00,524.00 C134.30,522.42 136.50,520.45 139.00,519.50 C141.50,518.55 145.58,517.88 148.00,518.30 C150.42,518.72 152.33,519.88 153.50,522.00 C154.67,524.12 155.17,527.83 155.00,531.00 C154.83,534.17 153.83,538.38 152.50,541.00 C151.17,543.62 149.17,546.20 147.00,546.70 C144.83,547.20 141.83,545.62 139.50,544.00 C137.17,542.38 134.38,539.50 133.00,537.00 C131.62,534.50 131.20,531.17 131.20,529.00 C131.20,526.83 131.70,525.58 133.00,524.00 Z" fill="#d06068" stroke="#d06068" stroke-width="1.0" stroke-linejoin="round"/><path d="M133.00,524.00 C134.30,522.42 136.50,520.45 139.00,519.50 C141.50,518.55 145.58,517.88 148.00,518.30 C150.42,518.72 152.33,519.88 153.50,522.00 C154.67,524.12 155.17,527.83 155.00,531.00 C154.83,534.17 153.83,538.38 152.50,541.00 C151.17,543.62 149.17,546.20 147.00,546.70 C144.83,547.20 141.83,545.62 139.50,544.00 C137.17,542.38 134.38,539.50 133.00,537.00 C131.62,534.50 131.20,531.17 131.20,529.00 C131.20,526.83 131.70,525.58 133.00,524.00 Z" fill="url(#tg2)"/><path d="M133.00,524.00 C134.30,522.42 136.50,520.45 139.00,519.50 C141.50,518.55 145.58,517.88 148.00,518.30 C150.42,518.72 152.33,519.88 153.50,522.00 C154.67,524.12 155.17,527.83 155.00,531.00 C154.83,534.17 153.83,538.38 152.50,541.00 C151.17,543.62 149.17,546.20 147.00,546.70 C144.83,547.20 141.83,545.62 139.50,544.00 C137.17,542.38 134.38,539.50 133.00,537.00 C131.62,534.50 131.20,531.17 131.20,529.00 C131.20,526.83 131.70,525.58 133.00,524.00 Z" fill="#000" filter="url(#md2)"/><path d="M133.00,524.00 C134.30,522.42 136.50,520.45 139.00,519.50 C141.50,518.55 145.58,517.88 148.00,518.30 C150.42,518.72 152.33,519.88 153.50,522.00 C154.67,524.12 155.17,527.83 155.00,531.00 C154.83,534.17 153.83,538.38 152.50,541.00 C151.17,543.62 149.17,546.20 147.00,546.70 C144.83,547.20 141.83,545.62 139.50,544.00 C137.17,542.38 134.38,539.50 133.00,537.00 C131.62,534.50 131.20,531.17 131.20,529.00 C131.20,526.83 131.70,525.58 133.00,524.00 Z" fill="#000" filter="url(#ml2)"/></g>
<g filter="url(#soft2)"><path d="M167.00,521.50 C168.33,519.93 170.50,518.28 173.00,517.60 C175.50,516.92 179.45,516.75 182.00,517.40 C184.55,518.05 187.38,519.73 188.30,521.50 C189.22,523.27 188.30,526.33 187.50,528.00 C186.70,529.67 183.67,529.92 183.50,531.50 C183.33,533.08 186.33,535.33 186.50,537.50 C186.67,539.67 186.08,542.82 184.50,544.50 C182.92,546.18 179.50,547.60 177.00,547.60 C174.50,547.60 171.47,546.43 169.50,544.50 C167.53,542.57 165.95,538.92 165.20,536.00 C164.45,533.08 164.70,529.42 165.00,527.00 C165.30,524.58 165.67,523.07 167.00,521.50 Z" fill="#e0a090" stroke="#e0a090" stroke-width="1.0" stroke-linejoin="round"/><path d="M167.00,521.50 C168.33,519.93 170.50,518.28 173.00,517.60 C175.50,516.92 179.45,516.75 182.00,517.40 C184.55,518.05 187.38,519.73 188.30,521.50 C189.22,523.27 188.30,526.33 187.50,528.00 C186.70,529.67 183.67,529.92 183.50,531.50 C183.33,533.08 186.33,535.33 186.50,537.50 C186.67,539.67 186.08,542.82 184.50,544.50 C182.92,546.18 179.50,547.60 177.00,547.60 C174.50,547.60 171.47,546.43 169.50,544.50 C167.53,542.57 165.95,538.92 165.20,536.00 C164.45,533.08 164.70,529.42 165.00,527.00 C165.30,524.58 165.67,523.07 167.00,521.50 Z" fill="url(#tg3)"/><path d="M167.00,521.50 C168.33,519.93 170.50,518.28 173.00,517.60 C175.50,516.92 179.45,516.75 182.00,517.40 C184.55,518.05 187.38,519.73 188.30,521.50 C189.22,523.27 188.30,526.33 187.50,528.00 C186.70,529.67 183.67,529.92 183.50,531.50 C183.33,533.08 186.33,535.33 186.50,537.50 C186.67,539.67 186.08,542.82 184.50,544.50 C182.92,546.18 179.50,547.60 177.00,547.60 C174.50,547.60 171.47,546.43 169.50,544.50 C167.53,542.57 165.95,538.92 165.20,536.00 C164.45,533.08 164.70,529.42 165.00,527.00 C165.30,524.58 165.67,523.07 167.00,521.50 Z" fill="#000" filter="url(#md3)"/><path d="M167.00,521.50 C168.33,519.93 170.50,518.28 173.00,517.60 C175.50,516.92 179.45,516.75 182.00,517.40 C184.55,518.05 187.38,519.73 188.30,521.50 C189.22,523.27 188.30,526.33 187.50,528.00 C186.70,529.67 183.67,529.92 183.50,531.50 C183.33,533.08 186.33,535.33 186.50,537.50 C186.67,539.67 186.08,542.82 184.50,544.50 C182.92,546.18 179.50,547.60 177.00,547.60 C174.50,547.60 171.47,546.43 169.50,544.50 C167.53,542.57 165.95,538.92 165.20,536.00 C164.45,533.08 164.70,529.42 165.00,527.00 C165.30,524.58 165.67,523.07 167.00,521.50 Z" fill="#000" filter="url(#ml3)"/></g>
<g filter="url(#soft2)"><path d="M237.50,522.00 C238.70,520.72 241.00,519.55 243.00,519.30 C245.00,519.05 247.80,519.55 249.50,520.50 C251.20,521.45 253.03,523.50 253.20,525.00 C253.37,526.50 250.53,527.92 250.50,529.50 C250.47,531.08 253.25,532.88 253.00,534.50 C252.75,536.12 250.92,538.38 249.00,539.20 C247.08,540.02 243.62,540.18 241.50,539.40 C239.38,538.62 237.25,536.57 236.30,534.50 C235.35,532.43 235.60,529.08 235.80,527.00 C236.00,524.92 236.30,523.28 237.50,522.00 Z" fill="#e08070" stroke="#e08070" stroke-width="1.0" stroke-linejoin="round"/><path d="M237.50,522.00 C238.70,520.72 241.00,519.55 243.00,519.30 C245.00,519.05 247.80,519.55 249.50,520.50 C251.20,521.45 253.03,523.50 253.20,525.00 C253.37,526.50 250.53,527.92 250.50,529.50 C250.47,531.08 253.25,532.88 253.00,534.50 C252.75,536.12 250.92,538.38 249.00,539.20 C247.08,540.02 243.62,540.18 241.50,539.40 C239.38,538.62 237.25,536.57 236.30,534.50 C235.35,532.43 235.60,529.08 235.80,527.00 C236.00,524.92 236.30,523.28 237.50,522.00 Z" fill="url(#tg4)"/><path d="M237.50,522.00 C238.70,520.72 241.00,519.55 243.00,519.30 C245.00,519.05 247.80,519.55 249.50,520.50 C251.20,521.45 253.03,523.50 253.20,525.00 C253.37,526.50 250.53,527.92 250.50,529.50 C250.47,531.08 253.25,532.88 253.00,534.50 C252.75,536.12 250.92,538.38 249.00,539.20 C247.08,540.02 243.62,540.18 241.50,539.40 C239.38,538.62 237.25,536.57 236.30,534.50 C235.35,532.43 235.60,529.08 235.80,527.00 C236.00,524.92 236.30,523.28 237.50,522.00 Z" fill="#000" filter="url(#md4)"/><path d="M237.50,522.00 C238.70,520.72 241.00,519.55 243.00,519.30 C245.00,519.05 247.80,519.55 249.50,520.50 C251.20,521.45 253.03,523.50 253.20,525.00 C253.37,526.50 250.53,527.92 250.50,529.50 C250.47,531.08 253.25,532.88 253.00,534.50 C252.75,536.12 250.92,538.38 249.00,539.20 C247.08,540.02 243.62,540.18 241.50,539.40 C239.38,538.62 237.25,536.57 236.30,534.50 C235.35,532.43 235.60,529.08 235.80,527.00 C236.00,524.92 236.30,523.28 237.50,522.00 Z" fill="#000" filter="url(#ml4)"/></g>
<g filter="url(#soft2)"><path d="M270.00,527.50 C271.25,526.38 273.42,525.18 275.50,524.80 C277.58,524.42 280.72,524.33 282.50,525.20 C284.28,526.07 285.70,528.03 286.20,530.00 C286.70,531.97 286.45,534.75 285.50,537.00 C284.55,539.25 282.50,542.35 280.50,543.50 C278.50,544.65 275.45,544.73 273.50,543.90 C271.55,543.07 269.72,540.57 268.80,538.50 C267.88,536.43 267.80,533.33 268.00,531.50 C268.20,529.67 268.75,528.62 270.00,527.50 Z" fill="#e08070" stroke="#e08070" stroke-width="1.0" stroke-linejoin="round"/><path d="M270.00,527.50 C271.25,526.38 273.42,525.18 275.50,524.80 C277.58,524.42 280.72,524.33 282.50,525.20 C284.28,526.07 285.70,528.03 286.20,530.00 C286.70,531.97 286.45,534.75 285.50,537.00 C284.55,539.25 282.50,542.35 280.50,543.50 C278.50,544.65 275.45,544.73 273.50,543.90 C271.55,543.07 269.72,540.57 268.80,538.50 C267.88,536.43 267.80,533.33 268.00,531.50 C268.20,529.67 268.75,528.62 270.00,527.50 Z" fill="url(#tg5)"/><path d="M270.00,527.50 C271.25,526.38 273.42,525.18 275.50,524.80 C277.58,524.42 280.72,524.33 282.50,525.20 C284.28,526.07 285.70,528.03 286.20,530.00 C286.70,531.97 286.45,534.75 285.50,537.00 C284.55,539.25 282.50,542.35 280.50,543.50 C278.50,544.65 275.45,544.73 273.50,543.90 C271.55,543.07 269.72,540.57 268.80,538.50 C267.88,536.43 267.80,533.33 268.00,531.50 C268.20,529.67 268.75,528.62 270.00,527.50 Z" fill="#000" filter="url(#md5)"/><path d="M270.00,527.50 C271.25,526.38 273.42,525.18 275.50,524.80 C277.58,524.42 280.72,524.33 282.50,525.20 C284.28,526.07 285.70,528.03 286.20,530.00 C286.70,531.97 286.45,534.75 285.50,537.00 C284.55,539.25 282.50,542.35 280.50,543.50 C278.50,544.65 275.45,544.73 273.50,543.90 C271.55,543.07 269.72,540.57 268.80,538.50 C267.88,536.43 267.80,533.33 268.00,531.50 C268.20,529.67 268.75,528.62 270.00,527.50 Z" fill="#000" filter="url(#ml5)"/></g>
<g filter="url(#soft2)"><path d="M334.00,528.00 C334.93,526.60 336.33,525.93 338.00,525.60 C339.67,525.27 342.33,525.27 344.00,526.00 C345.67,526.73 347.42,528.50 348.00,530.00 C348.58,531.50 347.33,533.33 347.50,535.00 C347.67,536.67 349.42,538.37 349.00,540.00 C348.58,541.63 346.83,543.97 345.00,544.80 C343.17,545.63 339.92,545.63 338.00,545.00 C336.08,544.37 334.43,542.83 333.50,541.00 C332.57,539.17 332.32,536.17 332.40,534.00 C332.48,531.83 333.07,529.40 334.00,528.00 Z" fill="#d88a70" stroke="#d88a70" stroke-width="1.0" stroke-linejoin="round"/><path d="M334.00,528.00 C334.93,526.60 336.33,525.93 338.00,525.60 C339.67,525.27 342.33,525.27 344.00,526.00 C345.67,526.73 347.42,528.50 348.00,530.00 C348.58,531.50 347.33,533.33 347.50,535.00 C347.67,536.67 349.42,538.37 349.00,540.00 C348.58,541.63 346.83,543.97 345.00,544.80 C343.17,545.63 339.92,545.63 338.00,545.00 C336.08,544.37 334.43,542.83 333.50,541.00 C332.57,539.17 332.32,536.17 332.40,534.00 C332.48,531.83 333.07,529.40 334.00,528.00 Z" fill="url(#tg6)"/><path d="M334.00,528.00 C334.93,526.60 336.33,525.93 338.00,525.60 C339.67,525.27 342.33,525.27 344.00,526.00 C345.67,526.73 347.42,528.50 348.00,530.00 C348.58,531.50 347.33,533.33 347.50,535.00 C347.67,536.67 349.42,538.37 349.00,540.00 C348.58,541.63 346.83,543.97 345.00,544.80 C343.17,545.63 339.92,545.63 338.00,545.00 C336.08,544.37 334.43,542.83 333.50,541.00 C332.57,539.17 332.32,536.17 332.40,534.00 C332.48,531.83 333.07,529.40 334.00,528.00 Z" fill="#000" filter="url(#md6)"/><path d="M334.00,528.00 C334.93,526.60 336.33,525.93 338.00,525.60 C339.67,525.27 342.33,525.27 344.00,526.00 C345.67,526.73 347.42,528.50 348.00,530.00 C348.58,531.50 347.33,533.33 347.50,535.00 C347.67,536.67 349.42,538.37 349.00,540.00 C348.58,541.63 346.83,543.97 345.00,544.80 C343.17,545.63 339.92,545.63 338.00,545.00 C336.08,544.37 334.43,542.83 333.50,541.00 C332.57,539.17 332.32,536.17 332.40,534.00 C332.48,531.83 333.07,529.40 334.00,528.00 Z" fill="#000" filter="url(#ml6)"/></g>
<g filter="url(#soft2)"><path d="M370.50,523.50 C371.25,522.42 374.08,521.25 376.00,521.00 C377.92,520.75 380.58,521.00 382.00,522.00 C383.42,523.00 384.25,525.00 384.50,527.00 C384.75,529.00 384.08,531.83 383.50,534.00 C382.92,536.17 382.42,538.80 381.00,540.00 C379.58,541.20 376.83,541.62 375.00,541.20 C373.17,540.78 370.92,539.20 370.00,537.50 C369.08,535.80 369.25,532.67 369.50,531.00 C369.75,529.33 371.33,528.75 371.50,527.50 C371.67,526.25 369.75,524.58 370.50,523.50 Z" fill="#d88a70" stroke="#d88a70" stroke-width="1.0" stroke-linejoin="round"/><path d="M370.50,523.50 C371.25,522.42 374.08,521.25 376.00,521.00 C377.92,520.75 380.58,521.00 382.00,522.00 C383.42,523.00 384.25,525.00 384.50,527.00 C384.75,529.00 384.08,531.83 383.50,534.00 C382.92,536.17 382.42,538.80 381.00,540.00 C379.58,541.20 376.83,541.62 375.00,541.20 C373.17,540.78 370.92,539.20 370.00,537.50 C369.08,535.80 369.25,532.67 369.50,531.00 C369.75,529.33 371.33,528.75 371.50,527.50 C371.67,526.25 369.75,524.58 370.50,523.50 Z" fill="url(#tg7)"/><path d="M370.50,523.50 C371.25,522.42 374.08,521.25 376.00,521.00 C377.92,520.75 380.58,521.00 382.00,522.00 C383.42,523.00 384.25,525.00 384.50,527.00 C384.75,529.00 384.08,531.83 383.50,534.00 C382.92,536.17 382.42,538.80 381.00,540.00 C379.58,541.20 376.83,541.62 375.00,541.20 C373.17,540.78 370.92,539.20 370.00,537.50 C369.08,535.80 369.25,532.67 369.50,531.00 C369.75,529.33 371.33,528.75 371.50,527.50 C371.67,526.25 369.75,524.58 370.50,523.50 Z" fill="#000" filter="url(#md7)"/><path d="M370.50,523.50 C371.25,522.42 374.08,521.25 376.00,521.00 C377.92,520.75 380.58,521.00 382.00,522.00 C383.42,523.00 384.25,525.00 384.50,527.00 C384.75,529.00 384.08,531.83 383.50,534.00 C382.92,536.17 382.42,538.80 381.00,540.00 C379.58,541.20 376.83,541.62 375.00,541.20 C373.17,540.78 370.92,539.20 370.00,537.50 C369.08,535.80 369.25,532.67 369.50,531.00 C369.75,529.33 371.33,528.75 371.50,527.50 C371.67,526.25 369.75,524.58 370.50,523.50 Z" fill="#000" filter="url(#ml7)"/></g>
<g filter="url(#soft2)"><path d="M443.59,531.30 C443.57,532.91 443.37,534.76 442.70,536.10 C442.03,537.44 440.75,538.48 439.56,539.33 C438.38,540.18 436.93,541.20 435.60,541.21 C434.27,541.22 432.80,540.24 431.61,539.39 C430.42,538.54 429.22,537.47 428.46,536.13 C427.70,534.78 427.03,532.90 427.05,531.30 C427.07,529.70 427.86,528.00 428.57,526.55 C429.28,525.10 430.14,523.44 431.31,522.60 C432.48,521.75 434.20,521.42 435.60,521.48 C437.00,521.54 438.52,522.12 439.72,522.95 C440.92,523.77 442.15,525.05 442.79,526.44 C443.44,527.83 443.60,529.69 443.59,531.30 Z" fill="#f0bda6" stroke="#f0bda6" stroke-width="2.0" stroke-linejoin="round"/><path d="M443.59,531.30 C443.57,532.91 443.37,534.76 442.70,536.10 C442.03,537.44 440.75,538.48 439.56,539.33 C438.38,540.18 436.93,541.20 435.60,541.21 C434.27,541.22 432.80,540.24 431.61,539.39 C430.42,538.54 429.22,537.47 428.46,536.13 C427.70,534.78 427.03,532.90 427.05,531.30 C427.07,529.70 427.86,528.00 428.57,526.55 C429.28,525.10 430.14,523.44 431.31,522.60 C432.48,521.75 434.20,521.42 435.60,521.48 C437.00,521.54 438.52,522.12 439.72,522.95 C440.92,523.77 442.15,525.05 442.79,526.44 C443.44,527.83 443.60,529.69 443.59,531.30 Z" fill="url(#tg8)"/><path d="M443.59,531.30 C443.57,532.91 443.37,534.76 442.70,536.10 C442.03,537.44 440.75,538.48 439.56,539.33 C438.38,540.18 436.93,541.20 435.60,541.21 C434.27,541.22 432.80,540.24 431.61,539.39 C430.42,538.54 429.22,537.47 428.46,536.13 C427.70,534.78 427.03,532.90 427.05,531.30 C427.07,529.70 427.86,528.00 428.57,526.55 C429.28,525.10 430.14,523.44 431.31,522.60 C432.48,521.75 434.20,521.42 435.60,521.48 C437.00,521.54 438.52,522.12 439.72,522.95 C440.92,523.77 442.15,525.05 442.79,526.44 C443.44,527.83 443.60,529.69 443.59,531.30 Z" fill="#000" filter="url(#md8)"/><path d="M443.59,531.30 C443.57,532.91 443.37,534.76 442.70,536.10 C442.03,537.44 440.75,538.48 439.56,539.33 C438.38,540.18 436.93,541.20 435.60,541.21 C434.27,541.22 432.80,540.24 431.61,539.39 C430.42,538.54 429.22,537.47 428.46,536.13 C427.70,534.78 427.03,532.90 427.05,531.30 C427.07,529.70 427.86,528.00 428.57,526.55 C429.28,525.10 430.14,523.44 431.31,522.60 C432.48,521.75 434.20,521.42 435.60,521.48 C437.00,521.54 438.52,522.12 439.72,522.95 C440.92,523.77 442.15,525.05 442.79,526.44 C443.44,527.83 443.60,529.69 443.59,531.30 Z" fill="#000" filter="url(#ml8)"/></g>
<g filter="url(#soft2)"><path d="M459.00,526.50 C460.28,524.87 462.75,523.37 464.50,523.20 C466.25,523.03 468.28,524.20 469.50,525.50 C470.72,526.80 471.47,528.83 471.80,531.00 C472.13,533.17 472.05,536.33 471.50,538.50 C470.95,540.67 470.08,542.92 468.50,544.00 C466.92,545.08 463.88,545.50 462.00,545.00 C460.12,544.50 458.07,543.00 457.20,541.00 C456.33,539.00 456.50,535.42 456.80,533.00 C457.10,530.58 457.72,528.13 459.00,526.50 Z" fill="#f0bda6" stroke="#f0bda6" stroke-width="2.0" stroke-linejoin="round"/><path d="M459.00,526.50 C460.28,524.87 462.75,523.37 464.50,523.20 C466.25,523.03 468.28,524.20 469.50,525.50 C470.72,526.80 471.47,528.83 471.80,531.00 C472.13,533.17 472.05,536.33 471.50,538.50 C470.95,540.67 470.08,542.92 468.50,544.00 C466.92,545.08 463.88,545.50 462.00,545.00 C460.12,544.50 458.07,543.00 457.20,541.00 C456.33,539.00 456.50,535.42 456.80,533.00 C457.10,530.58 457.72,528.13 459.00,526.50 Z" fill="url(#tg9)"/><path d="M459.00,526.50 C460.28,524.87 462.75,523.37 464.50,523.20 C466.25,523.03 468.28,524.20 469.50,525.50 C470.72,526.80 471.47,528.83 471.80,531.00 C472.13,533.17 472.05,536.33 471.50,538.50 C470.95,540.67 470.08,542.92 468.50,544.00 C466.92,545.08 463.88,545.50 462.00,545.00 C460.12,544.50 458.07,543.00 457.20,541.00 C456.33,539.00 456.50,535.42 456.80,533.00 C457.10,530.58 457.72,528.13 459.00,526.50 Z" fill="#000" filter="url(#md9)"/><path d="M459.00,526.50 C460.28,524.87 462.75,523.37 464.50,523.20 C466.25,523.03 468.28,524.20 469.50,525.50 C470.72,526.80 471.47,528.83 471.80,531.00 C472.13,533.17 472.05,536.33 471.50,538.50 C470.95,540.67 470.08,542.92 468.50,544.00 C466.92,545.08 463.88,545.50 462.00,545.00 C460.12,544.50 458.07,543.00 457.20,541.00 C456.33,539.00 456.50,535.42 456.80,533.00 C457.10,530.58 457.72,528.13 459.00,526.50 Z" fill="#000" filter="url(#ml9)"/></g>
<ellipse cx="247.43" cy="539.50" rx="0.88" ry="0.61" fill="#e4a8a0" opacity="0.69"/>
<ellipse cx="248.21" cy="556.84" rx="0.69" ry="0.71" fill="#e4a8a0" opacity="0.41"/>
<ellipse cx="238.59" cy="549.11" rx="0.63" ry="0.60" fill="#e4a8a0" opacity="0.66"/>
<ellipse cx="245.44" cy="543.41" rx="1.19" ry="0.90" fill="#e4a8a0" opacity="0.40"/>
<ellipse cx="250.92" cy="552.96" rx="0.94" ry="0.58" fill="#e4a8a0" opacity="0.78"/>
<ellipse cx="241.07" cy="540.85" rx="0.70" ry="0.92" fill="#e4a8a0" opacity="0.64"/>
<ellipse cx="250.95" cy="553.59" rx="1.14" ry="0.99" fill="#e4a8a0" opacity="0.55"/>
<ellipse cx="245.59" cy="555.59" rx="1.22" ry="0.93" fill="#e4a8a0" opacity="0.63"/>
<ellipse cx="248.80" cy="539.92" rx="0.83" ry="0.64" fill="#e4a8a0" opacity="0.43"/>
<ellipse cx="238.89" cy="541.02" rx="0.88" ry="0.82" fill="#e4a8a0" opacity="0.55"/>
<ellipse cx="241.77" cy="543.19" rx="0.87" ry="0.97" fill="#e4a8a0" opacity="0.66"/>
<ellipse cx="246.79" cy="542.42" rx="1.33" ry="0.58" fill="#e4a8a0" opacity="0.55"/>
<ellipse cx="254.78" cy="551.80" rx="1.16" ry="0.84" fill="#e4a8a0" opacity="0.74"/>
<ellipse cx="250.30" cy="543.58" rx="0.63" ry="0.66" fill="#e4a8a0" opacity="0.51"/>
<ellipse cx="238.43" cy="557.86" rx="1.48" ry="0.66" fill="#e4a8a0" opacity="0.66"/>
<ellipse cx="242.31" cy="557.29" rx="1.06" ry="0.63" fill="#e4a8a0" opacity="0.50"/>
<ellipse cx="245.79" cy="544.25" rx="1.18" ry="0.95" fill="#e4a8a0" opacity="0.56"/>
<ellipse cx="238.61" cy="558.95" rx="1.11" ry="0.55" fill="#e4a8a0" opacity="0.42"/>
<ellipse cx="236.30" cy="551.55" rx="1.39" ry="0.71" fill="#e4a8a0" opacity="0.43"/>
<ellipse cx="242.01" cy="558.92" rx="1.13" ry="0.99" fill="#e4a8a0" opacity="0.74"/>
<ellipse cx="234.24" cy="553.41" rx="1.28" ry="0.77" fill="#e4a8a0" opacity="0.51"/>
<ellipse cx="247.46" cy="541.23" rx="1.03" ry="0.73" fill="#e4a8a0" opacity="0.78"/>
<ellipse cx="252.39" cy="544.27" rx="1.10" ry="0.59" fill="#e4a8a0" opacity="0.77"/>
<ellipse cx="252.28" cy="544.97" rx="1.24" ry="0.80" fill="#e4a8a0" opacity="0.46"/>
<ellipse cx="250.01" cy="549.79" rx="1.38" ry="0.77" fill="#e4a8a0" opacity="0.40"/>
<ellipse cx="240.81" cy="539.39" rx="1.53" ry="0.94" fill="#e4a8a0" opacity="0.73"/>
<ellipse cx="259" cy="527" rx="4.5" ry="10" fill="#eadcd8" opacity="0.18"/>
</svg></body></html>
